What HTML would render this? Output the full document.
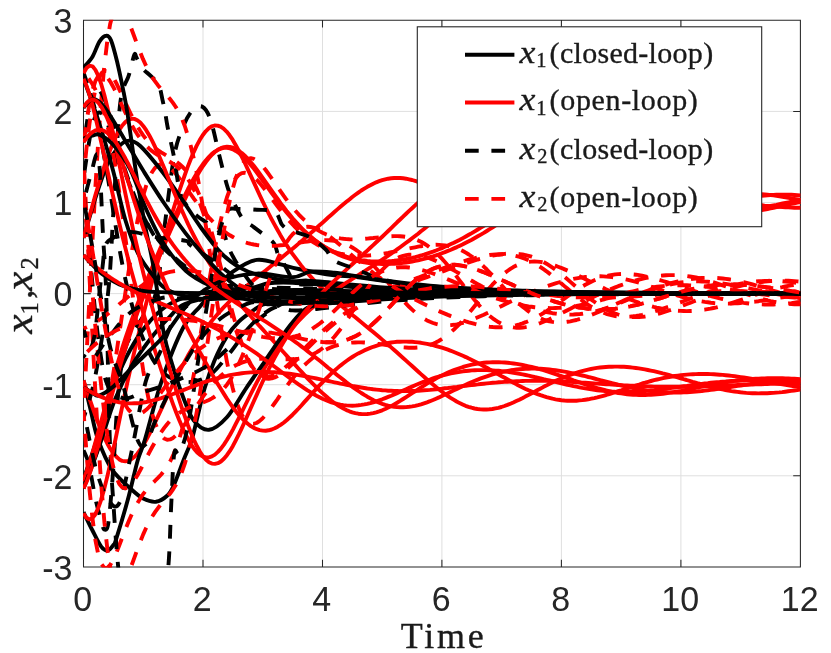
<!DOCTYPE html>
<html><head><meta charset="utf-8"><title>x1, x2 versus Time</title>
<style>html,body{margin:0;padding:0;background:#fff}svg{display:block}.tk{font-family:"Liberation Sans",sans-serif;font-size:34px;fill:#262626}.se{font-family:"Liberation Serif",serif;fill:#1a1a1a;stroke:#1a1a1a;stroke-width:.35px}.c{fill:none;stroke-linejoin:round;stroke-linecap:butt}</style></head><body>
<svg width="831" height="653" viewBox="0 0 831 653">
<rect width="831" height="653" fill="#fff"/>
<path d="M203.0 20.3 V566.9M322.5 20.3 V566.9M441.9 20.3 V566.9M561.4 20.3 V566.9M680.9 20.3 V566.9M83.5 475.8 H800.4M83.5 384.7 H800.4M83.5 293.6 H800.4M83.5 202.5 H800.4M83.5 111.4 H800.4" stroke="#dfdfdf" stroke-width="1" fill="none"/>
<path d="M83.5 20.3 H800.4 V566.9 H83.5 ZM203.0 566.9 v-7.2 M203.0 20.3 v7.2M322.5 566.9 v-7.2 M322.5 20.3 v7.2M441.9 566.9 v-7.2 M441.9 20.3 v7.2M561.4 566.9 v-7.2 M561.4 20.3 v7.2M680.9 566.9 v-7.2 M680.9 20.3 v7.2M83.5 475.8 h7.2 M800.4 475.8 h-7.2M83.5 384.7 h7.2 M800.4 384.7 h-7.2M83.5 293.6 h7.2 M800.4 293.6 h-7.2M83.5 202.5 h7.2 M800.4 202.5 h-7.2M83.5 111.4 h7.2 M800.4 111.4 h-7.2" stroke="#262626" stroke-width="1.05" fill="none"/>
<defs><clipPath id="cp"><rect x="83.0" y="19.8" width="718.4" height="547.6"/></clipPath></defs>
<g clip-path="url(#cp)">
<path class="c" d="M83.5 380.1C84.7 385.2 88.2 400.3 90.7 410.2C93.1 420.1 94.5 429.5 98.0 439.4C101.6 449.2 106.2 461.0 111.9 469.4C117.5 477.8 126.6 485.0 131.8 489.8C137.1 494.7 139.2 496.6 143.2 498.6C147.2 500.6 151.8 502.2 155.8 501.8C159.8 501.3 164.2 498.5 167.1 495.8C170.1 493.2 170.8 491.8 173.6 485.8C176.3 479.9 180.6 467.7 183.6 460.0C186.6 452.4 189.3 447.1 191.6 440.0C193.9 432.9 195.2 426.0 197.4 417.3C199.6 408.6 201.9 397.2 204.8 387.8C207.6 378.4 210.7 369.5 214.3 360.9C218.0 352.4 222.8 343.0 226.9 336.4C231.0 329.9 234.7 325.8 238.8 321.7C242.9 317.6 247.3 314.7 251.4 311.8C255.5 309.0 258.3 306.0 263.3 304.5C268.3 303.0 274.3 303.5 281.2 302.8C288.2 302.2 297.2 301.2 305.1 300.5C313.1 299.8 321.1 299.1 329.0 298.6C337.0 298.1 345.0 297.7 352.9 297.3C360.9 296.9 368.9 296.6 376.8 296.3C384.8 296.1 392.8 295.9 400.7 295.7C408.7 295.5 416.7 295.3 424.6 295.2C432.6 295.0 440.6 294.9 448.5 294.8C456.5 294.7 464.5 294.6 472.4 294.5C480.4 294.4 488.3 294.4 496.3 294.3C504.3 294.2 512.2 294.2 520.2 294.1C528.2 294.1 536.1 294.1 544.1 294.0C552.1 294.0 554.1 294.0 568.0 293.9C581.9 293.9 607.8 293.8 627.7 293.8C647.7 293.7 667.6 293.7 687.5 293.7C707.4 293.7 728.4 293.7 747.2 293.6C766.0 293.6 791.5 293.6 800.4 293.6" stroke="#000" stroke-width="3.9"/>
<path class="c" d="M83.5 380.3L86.5 389.5L89.5 398.6L92.5 407.3L95.4 415.6L98.4 423.5L101.4 430.9L104.4 437.6L107.4 443.7L110.4 449.0L113.4 453.4L116.4 456.8L119.3 459.4L122.3 460.9L125.3 461.3L128.3 460.8L131.3 459.3L134.3 457.0L137.3 453.7L140.3 449.8L143.2 445.2L146.2 440.0L149.2 434.4L152.2 428.4L155.2 422.2L158.2 415.9L161.2 409.4L164.2 403.0L167.1 396.5L170.1 390.2L173.1 384.0L176.1 377.9L179.1 372.1L182.1 366.4L185.1 360.9L188.0 355.6L191.0 350.6L194.0 345.7L197.0 341.1L200.0 336.7L203.0 332.4L206.0 328.3L209.0 324.5L211.9 320.7L214.9 317.2L217.9 313.7L220.9 310.4L223.9 307.2L226.9 304.2L229.9 301.2L232.9 298.3L235.8 295.6L238.8 292.8L241.8 290.2L244.8 287.6L247.8 285.0L250.8 282.5L253.8 280.1L256.8 277.6L259.7 275.2L262.7 272.8L265.7 270.4L268.7 268.0L271.7 265.6L274.7 263.3L277.7 260.9L280.6 258.5L283.6 256.0L286.6 253.6L289.6 251.1L292.6 248.7L295.6 246.2L298.6 243.6L301.6 241.1L304.5 238.5L307.5 235.9L310.5 233.3L313.5 230.7L316.5 228.0L319.5 225.3L322.5 222.7L325.5 220.0L328.4 217.3L331.4 214.7L334.4 212.0L337.4 209.4L340.4 206.8L343.4 204.3L346.4 201.8L349.4 199.4L352.3 197.0L355.3 194.8L358.3 192.6L361.3 190.5L364.3 188.6L367.3 186.8L370.3 185.2L373.2 183.7L376.2 182.3L379.2 181.2L382.2 180.2L385.2 179.4L388.2 178.7L391.2 178.3L394.2 178.0L397.1 177.9L400.1 178.0L403.1 178.3L406.1 178.7L409.1 179.3L412.1 180.0L415.1 180.9L418.1 181.9L421.0 183.0L424.0 184.2L427.0 185.5L430.0 186.8L433.0 188.3L436.0 189.8L439.0 191.3L441.9 192.9L444.9 194.5L447.9 196.0L450.9 197.6L453.9 199.2L456.9 200.7L459.9 202.3L462.9 203.7L465.8 205.2L468.8 206.6L471.8 207.9L474.8 209.2L477.8 210.4L480.8 211.6L483.8 212.6L486.8 213.7L489.7 214.6L492.7 215.5L495.7 216.3L498.7 217.0L501.7 217.7L504.7 218.3L507.7 218.8L510.7 219.2L513.6 219.6L516.6 219.9L519.6 220.1L522.6 220.3L525.6 220.3L528.6 220.4L531.6 220.3L534.5 220.2L537.5 220.1L540.5 219.8L543.5 219.5L546.5 219.2L549.5 218.8L552.5 218.4L555.5 217.9L558.4 217.4L561.4 216.8L564.4 216.2L567.4 215.5L570.4 214.8L573.4 214.1L576.4 213.3L579.4 212.6L582.3 211.8L585.3 210.9L588.3 210.1L591.3 209.3L594.3 208.4L597.3 207.5L600.3 206.7L603.3 205.8L606.2 205.0L609.2 204.1L612.2 203.3L615.2 202.5L618.2 201.7L621.2 200.9L624.2 200.2L627.1 199.4L630.1 198.8L633.1 198.1L636.1 197.5L639.1 196.9L642.1 196.4L645.1 196.0L648.1 195.5L651.0 195.2L654.0 194.8L657.0 194.5L660.0 194.3L663.0 194.2L666.0 194.0L669.0 194.0L672.0 193.9L674.9 194.0L677.9 194.0L680.9 194.2L683.9 194.3L686.9 194.5L689.9 194.8L692.9 195.1L695.9 195.4L698.8 195.7L701.8 196.1L704.8 196.5L707.8 196.9L710.8 197.4L713.8 197.8L716.8 198.3L719.7 198.8L722.7 199.3L725.7 199.8L728.7 200.3L731.7 200.8L734.7 201.3L737.7 201.8L740.7 202.3L743.6 202.7L746.6 203.2L749.6 203.6L752.6 204.1L755.6 204.5L758.6 204.8L761.6 205.2L764.6 205.6L767.5 205.9L770.5 206.2L773.5 206.5L776.5 206.7L779.5 206.9L782.5 207.1L785.5 207.3L788.5 207.4L791.4 207.6L794.4 207.7L797.4 207.7L800.4 207.8" stroke="#f00" stroke-width="3.9"/>
<path class="c" d="M83.5 450.3C84.4 452.6 86.9 456.4 88.9 464.4C90.9 472.5 93.4 489.1 95.4 498.6C97.5 508.1 99.9 516.2 101.4 521.4C102.9 526.5 103.2 529.5 104.4 529.5C105.6 529.5 107.1 531.8 108.6 521.4C110.1 510.9 111.8 487.9 113.4 466.7C115.0 445.4 116.2 413.5 118.2 393.8C120.1 374.1 121.6 360.4 125.3 348.3C129.0 336.1 135.2 330.0 140.3 320.9C145.3 311.8 151.7 309.5 155.8 293.6C159.9 277.7 161.7 248.0 164.7 225.3C167.8 202.5 171.0 173.2 174.0 156.9C177.0 140.7 179.6 135.5 182.7 127.8C185.7 120.1 188.9 114.0 192.2 110.5C195.5 107.0 199.3 105.2 202.4 106.8C205.5 108.5 207.9 112.2 210.7 120.5C213.6 128.9 216.8 145.6 219.7 156.9C222.6 168.3 225.2 180.2 228.1 188.8C231.0 197.5 234.4 203.7 237.0 208.9C239.6 214.0 240.8 216.8 243.6 219.8C246.4 222.8 250.3 224.5 253.8 227.1C257.2 229.7 261.1 232.6 264.5 235.3C267.9 238.0 271.8 240.2 274.1 243.5C276.4 246.8 276.5 251.7 278.3 255.3C280.1 259.0 281.9 260.8 284.8 265.4C287.7 269.9 290.8 279.4 295.6 282.7C300.4 285.9 306.5 284.0 313.5 284.7C320.5 285.5 329.4 286.5 337.4 287.2C345.4 287.9 353.3 288.5 361.3 289.0C369.3 289.5 377.2 289.9 385.2 290.3C393.2 290.6 401.1 290.9 409.1 291.2C417.1 291.4 425.0 291.6 433.0 291.8C441.0 291.9 448.9 292.1 456.9 292.2C464.9 292.3 472.8 292.4 480.8 292.5C488.7 292.6 496.7 292.7 504.7 292.8C512.6 292.9 520.6 292.9 528.6 293.0C536.5 293.0 544.5 293.1 552.5 293.1C560.4 293.2 562.4 293.2 576.4 293.2C590.3 293.3 616.2 293.4 636.1 293.4C656.0 293.5 675.9 293.5 695.9 293.5C715.8 293.5 738.2 293.5 755.6 293.5C773.0 293.6 792.9 293.6 800.4 293.6" stroke="#000" stroke-width="3.9" stroke-dasharray="13.7 12.7" stroke-dashoffset="0"/>
<path class="c" d="M83.5 481.4L86.5 476.8L89.5 471.1L92.5 464.4L95.4 456.2L98.4 446.5L101.4 435.1L104.4 422.0L107.4 407.1L110.4 390.6L113.4 372.7L116.4 353.6L119.3 333.7L122.3 313.4L125.3 293.2L128.3 273.5L131.3 254.7L134.3 237.3L137.3 221.5L140.3 207.5L143.2 195.5L146.2 185.6L149.2 177.7L152.2 171.8L155.2 167.7L158.2 165.2L161.2 164.2L164.2 164.5L167.1 165.8L170.1 168.0L173.1 170.8L176.1 174.2L179.1 178.0L182.1 182.0L185.1 186.1L188.0 190.4L191.0 194.6L194.0 198.8L197.0 202.8L200.0 206.8L203.0 210.5L206.0 214.1L209.0 217.5L211.9 220.6L214.9 223.6L217.9 226.3L220.9 228.9L223.9 231.2L226.9 233.3L229.9 235.3L232.9 237.0L235.8 238.6L238.8 239.9L241.8 241.2L244.8 242.2L247.8 243.1L250.8 243.9L253.8 244.5L256.8 245.0L259.7 245.4L262.7 245.7L265.7 245.8L268.7 245.9L271.7 245.9L274.7 245.8L277.7 245.6L280.6 245.3L283.6 245.0L286.6 244.6L289.6 244.2L292.6 243.8L295.6 243.3L298.6 242.8L301.6 242.4L304.5 241.9L307.5 241.5L310.5 241.1L313.5 240.7L316.5 240.4L319.5 240.2L322.5 240.1L325.5 240.1L328.4 240.2L331.4 240.5L334.4 240.9L337.4 241.5L340.4 242.3L343.4 243.3L346.4 244.5L349.4 245.9L352.3 247.5L355.3 249.4L358.3 251.5L361.3 253.8L364.3 256.4L367.3 259.1L370.3 262.1L373.2 265.2L376.2 268.5L379.2 271.9L382.2 275.5L385.2 279.1L388.2 282.7L391.2 286.4L394.2 290.0L397.1 293.6L400.1 297.1L403.1 300.5L406.1 303.7L409.1 306.8L412.1 309.6L415.1 312.3L418.1 314.7L421.0 316.8L424.0 318.8L427.0 320.4L430.0 321.8L433.0 323.0L436.0 323.9L439.0 324.6L441.9 325.0L444.9 325.3L447.9 325.3L450.9 325.1L453.9 324.8L456.9 324.3L459.9 323.6L462.9 322.8L465.8 321.9L468.8 320.9L471.8 319.8L474.8 318.6L477.8 317.3L480.8 316.0L483.8 314.7L486.8 313.3L489.7 311.9L492.7 310.4L495.7 309.0L498.7 307.5L501.7 306.0L504.7 304.5L507.7 303.1L510.7 301.6L513.6 300.2L516.6 298.8L519.6 297.4L522.6 296.0L525.6 294.7L528.6 293.4L531.6 292.1L534.5 290.9L537.5 289.7L540.5 288.5L543.5 287.4L546.5 286.3L549.5 285.3L552.5 284.3L555.5 283.4L558.4 282.5L561.4 281.6L564.4 280.8L567.4 280.1L570.4 279.5L573.4 278.8L576.4 278.3L579.4 277.8L582.3 277.4L585.3 277.0L588.3 276.8L591.3 276.6L594.3 276.4L597.3 276.3L600.3 276.3L603.3 276.4L606.2 276.6L609.2 276.8L612.2 277.1L615.2 277.5L618.2 277.9L621.2 278.4L624.2 279.0L627.1 279.6L630.1 280.3L633.1 281.1L636.1 281.9L639.1 282.8L642.1 283.7L645.1 284.6L648.1 285.6L651.0 286.6L654.0 287.6L657.0 288.6L660.0 289.6L663.0 290.7L666.0 291.7L669.0 292.7L672.0 293.7L674.9 294.6L677.9 295.6L680.9 296.5L683.9 297.3L686.9 298.1L689.9 298.9L692.9 299.6L695.9 300.3L698.8 300.9L701.8 301.4L704.8 301.9L707.8 302.3L710.8 302.7L713.8 303.0L716.8 303.2L719.7 303.4L722.7 303.5L725.7 303.6L728.7 303.6L731.7 303.5L734.7 303.4L737.7 303.3L740.7 303.1L743.6 302.9L746.6 302.6L749.6 302.3L752.6 301.9L755.6 301.6L758.6 301.2L761.6 300.7L764.6 300.3L767.5 299.8L770.5 299.3L773.5 298.8L776.5 298.3L779.5 297.8L782.5 297.3L785.5 296.8L788.5 296.3L791.4 295.7L794.4 295.2L797.4 294.7L800.4 294.2" stroke="#f00" stroke-width="3.9" stroke-dasharray="13.7 12.7" stroke-dashoffset="0"/>
<path class="c" d="M83.5 512.2C85.0 515.3 89.5 524.7 92.5 530.5C95.4 536.2 98.8 543.5 101.4 546.9C104.0 550.2 106.0 550.8 108.0 550.5C110.0 550.2 112.0 546.9 113.4 545.0C114.7 543.2 113.6 547.1 116.0 539.6C118.4 532.0 124.2 513.0 127.8 499.8C131.5 486.5 134.9 470.1 137.8 460.0C140.7 450.0 141.1 452.4 145.0 439.4C149.0 426.3 155.1 400.1 161.5 381.5C167.8 363.0 176.5 340.6 183.0 328.0C189.4 315.5 194.7 312.9 200.0 306.4C205.3 299.9 209.5 294.8 214.9 289.0C220.4 283.3 225.9 276.6 232.9 271.7C239.8 266.9 248.8 261.1 256.8 259.9C264.7 258.7 273.7 262.9 280.6 264.4C287.6 266.0 289.6 267.2 298.6 269.0C307.5 270.8 325.5 274.1 334.4 275.4C343.4 276.6 345.4 275.7 352.3 276.5C359.3 277.2 368.3 278.8 376.2 279.9C384.2 281.0 392.2 282.2 400.1 283.2C408.1 284.2 416.1 285.0 424.0 285.8C432.0 286.5 440.0 287.1 447.9 287.7C455.9 288.2 463.9 288.7 471.8 289.1C479.8 289.5 487.8 289.9 495.7 290.2C503.7 290.5 511.6 290.7 519.6 291.0C527.6 291.2 535.5 291.4 543.5 291.6C551.5 291.8 553.5 291.8 567.4 292.0C581.3 292.2 607.2 292.6 627.1 292.8C647.1 293.0 667.0 293.1 686.9 293.2C706.8 293.3 727.7 293.3 746.6 293.4C765.6 293.4 791.4 293.5 800.4 293.5" stroke="#000" stroke-width="3.9"/>
<path class="c" d="M83.5 513.2L86.2 517.5L89.2 519.4L92.2 518.4L95.1 514.7L98.1 508.4L101.1 499.8L104.1 489.4L107.1 477.4L110.1 464.4L113.1 450.6L116.1 436.4L119.0 422.0L122.0 407.6L125.0 393.5L128.0 379.6L131.0 366.2L134.0 353.1L137.0 340.4L140.0 328.1L142.9 316.2L145.9 304.6L148.9 293.4L151.9 282.4L154.9 271.6L157.9 261.1L160.9 250.8L163.9 240.6L166.8 230.6L169.8 220.8L172.8 211.2L175.8 201.7L178.8 192.5L181.8 183.6L184.8 175.0L187.7 166.9L190.7 159.2L193.7 152.1L196.7 145.7L199.7 140.1L202.7 135.2L205.7 131.3L208.7 128.4L211.6 126.4L214.6 125.5L217.6 125.6L220.6 126.7L223.6 128.7L226.6 131.6L229.6 135.3L232.6 139.7L235.5 144.7L238.5 150.2L241.5 156.1L244.5 162.2L247.5 168.6L250.5 175.1L253.5 181.6L256.5 188.1L259.4 194.5L262.4 200.8L265.4 207.0L268.4 213.0L271.4 218.8L274.4 224.4L277.4 229.8L280.3 234.9L283.3 239.9L286.3 244.7L289.3 249.2L292.3 253.6L295.3 257.7L298.3 261.7L301.3 265.6L304.2 269.2L307.2 272.7L310.2 276.1L313.2 279.4L316.2 282.5L319.2 285.6L322.2 288.5L325.2 291.4L328.1 294.2L331.1 296.9L334.1 299.5L337.1 302.2L340.1 304.7L343.1 307.2L346.1 309.7L349.1 312.2L352.0 314.7L355.0 317.1L358.0 319.6L361.0 322.0L364.0 324.4L367.0 326.9L370.0 329.4L372.9 331.8L375.9 334.3L378.9 336.8L381.9 339.4L384.9 341.9L387.9 344.5L390.9 347.1L393.9 349.7L396.8 352.3L399.8 355.0L402.8 357.7L405.8 360.4L408.8 363.1L411.8 365.8L414.8 368.5L417.8 371.2L420.7 373.9L423.7 376.5L426.7 379.2L429.7 381.8L432.7 384.3L435.7 386.8L438.7 389.2L441.7 391.5L444.6 393.7L447.6 395.9L450.6 397.9L453.6 399.7L456.6 401.5L459.6 403.1L462.6 404.5L465.5 405.8L468.5 406.8L471.5 407.7L474.5 408.5L477.5 409.0L480.5 409.4L483.5 409.5L486.5 409.5L489.4 409.3L492.4 409.0L495.4 408.4L498.4 407.8L501.4 407.0L504.4 406.0L507.4 404.9L510.4 403.7L513.3 402.5L516.3 401.1L519.3 399.7L522.3 398.2L525.3 396.6L528.3 395.1L531.3 393.5L534.3 391.9L537.2 390.3L540.2 388.7L543.2 387.1L546.2 385.6L549.2 384.0L552.2 382.6L555.2 381.1L558.1 379.8L561.1 378.4L564.1 377.2L567.1 376.0L570.1 374.9L573.1 373.8L576.1 372.8L579.1 371.9L582.0 371.1L585.0 370.3L588.0 369.6L591.0 369.0L594.0 368.4L597.0 367.9L600.0 367.5L603.0 367.2L605.9 367.0L608.9 366.8L611.9 366.7L614.9 366.6L617.9 366.6L620.9 366.7L623.9 366.8L626.9 367.0L629.8 367.3L632.8 367.6L635.8 368.0L638.8 368.4L641.8 368.9L644.8 369.4L647.8 370.0L650.7 370.6L653.7 371.2L656.7 371.9L659.7 372.6L662.7 373.4L665.7 374.1L668.7 374.9L671.7 375.8L674.6 376.6L677.6 377.4L680.6 378.3L683.6 379.2L686.6 380.0L689.6 380.9L692.6 381.8L695.6 382.6L698.5 383.5L701.5 384.3L704.5 385.1L707.5 385.9L710.5 386.7L713.5 387.4L716.5 388.1L719.5 388.8L722.4 389.4L725.4 390.0L728.4 390.6L731.4 391.1L734.4 391.5L737.4 391.9L740.4 392.3L743.3 392.6L746.3 392.9L749.3 393.1L752.3 393.2L755.3 393.3L758.3 393.4L761.3 393.3L764.3 393.3L767.2 393.2L770.2 393.0L773.2 392.9L776.2 392.6L779.2 392.4L782.2 392.1L785.2 391.7L788.2 391.3L791.1 390.9L794.1 390.5L797.1 390.1L800.1 389.6L800.4 389.6" stroke="#f00" stroke-width="3.9"/>
<path class="c" d="M83.5 418.4C85.5 411.3 91.4 396.4 95.4 375.6C99.5 354.8 105.0 320.9 108.0 293.6C111.0 266.3 111.4 242.9 113.4 211.6C115.4 180.3 117.4 128.7 119.9 105.9C122.5 83.2 126.5 83.5 128.9 75.0C131.3 66.5 133.0 57.8 134.3 54.9C135.6 52.1 135.2 55.6 136.7 57.9C138.1 60.2 140.4 65.5 142.8 68.6C145.2 71.7 148.5 73.5 151.2 76.3C153.9 79.1 157.0 81.4 158.9 85.4C160.8 89.5 161.7 96.5 162.7 100.8C163.7 105.2 164.2 107.0 165.0 111.4C165.8 115.8 166.2 119.9 167.7 127.5C169.2 135.1 171.8 145.7 174.0 156.9C176.2 168.2 177.6 185.9 180.9 195.2C184.2 204.5 188.6 207.9 193.7 213.0C198.8 218.0 207.0 222.5 211.3 225.6C215.7 228.8 217.5 230.0 219.7 231.7C221.9 233.3 223.0 232.6 224.5 235.3C226.0 238.0 226.3 242.9 228.7 248.0C231.1 253.2 234.1 259.4 238.8 266.3C243.5 273.1 249.8 283.3 256.8 289.0C263.7 294.8 273.7 298.5 280.6 300.9C287.6 303.3 291.6 303.3 298.6 303.6C305.5 304.0 314.5 303.5 322.5 303.2C330.4 302.8 338.4 302.1 346.4 301.5C354.3 301.0 362.3 300.3 370.3 299.8C378.2 299.3 386.2 298.8 394.2 298.4C402.1 298.0 410.1 297.6 418.1 297.3C426.0 297.0 434.0 296.7 442.0 296.5C449.9 296.2 457.9 296.0 465.8 295.8C473.8 295.6 481.8 295.5 489.7 295.3C497.7 295.2 505.7 295.0 513.6 294.9C521.6 294.8 529.6 294.7 537.5 294.6C545.5 294.5 547.5 294.5 561.4 294.4C575.4 294.3 601.3 294.1 621.2 294.0C641.1 293.9 661.0 293.9 680.9 293.8C700.8 293.8 720.7 293.7 740.7 293.7C760.6 293.7 790.4 293.7 800.4 293.7" stroke="#000" stroke-width="3.9" stroke-dasharray="13.7 12.7" stroke-dashoffset="7"/>
<path class="c" d="M83.5 413.2L86.2 361.8L89.2 303.4L92.2 246.0L95.1 192.0L98.1 143.5L101.1 102.0L104.1 68.2L107.1 42.4L110.1 24.2L113.1 12.7L116.1 6.9L119.0 5.8L122.0 8.3L125.0 13.3L128.0 20.0L131.0 27.7L134.0 35.8L137.0 43.9L140.0 51.7L142.9 58.9L145.9 65.5L148.9 71.4L151.9 76.6L154.9 81.2L157.9 85.2L160.9 88.8L163.9 92.1L166.8 95.4L169.8 98.8L172.8 102.6L175.8 107.0L178.8 112.2L181.8 118.4L184.8 126.0L187.7 135.1L190.7 145.8L193.7 158.3L196.7 172.6L199.7 188.5L202.7 206.0L205.7 224.8L208.7 244.6L211.6 265.0L214.6 285.5L217.6 305.6L220.6 325.0L223.6 343.3L226.6 360.0L229.6 374.9L232.6 387.8L235.5 398.6L238.5 407.4L241.5 414.2L244.5 419.0L247.5 422.1L250.5 423.7L253.5 423.9L256.5 423.0L259.4 421.1L262.4 418.5L265.4 415.3L268.4 411.6L271.4 407.7L274.4 403.5L277.4 399.3L280.3 395.0L283.3 390.8L286.3 386.7L289.3 382.7L292.3 378.8L295.3 375.2L298.3 371.7L301.3 368.5L304.2 365.4L307.2 362.6L310.2 360.0L313.2 357.6L316.2 355.4L319.2 353.4L322.2 351.6L325.2 350.0L328.1 348.6L331.1 347.3L334.1 346.2L337.1 345.3L340.1 344.5L343.1 343.8L346.1 343.3L349.1 342.9L352.0 342.6L355.0 342.5L358.0 342.4L361.0 342.4L364.0 342.5L367.0 342.7L370.0 342.9L372.9 343.2L375.9 343.6L378.9 344.0L381.9 344.4L384.9 344.9L387.9 345.3L390.9 345.8L393.9 346.2L396.8 346.6L399.8 347.0L402.8 347.3L405.8 347.5L408.8 347.7L411.8 347.7L414.8 347.7L417.8 347.5L420.7 347.1L423.7 346.6L426.7 345.9L429.7 345.0L432.7 343.9L435.7 342.5L438.7 341.0L441.7 339.2L444.6 337.2L447.6 334.9L450.6 332.4L453.6 329.8L456.6 326.9L459.6 323.8L462.6 320.5L465.5 317.1L468.5 313.5L471.5 309.9L474.5 306.2L477.5 302.5L480.5 298.8L483.5 295.2L486.5 291.6L489.4 288.1L492.4 284.7L495.4 281.6L498.4 278.6L501.4 275.8L504.4 273.3L507.4 271.0L510.4 268.9L513.3 267.1L516.3 265.6L519.3 264.3L522.3 263.3L525.3 262.5L528.3 261.9L531.3 261.6L534.3 261.5L537.2 261.6L540.2 261.9L543.2 262.4L546.2 263.0L549.2 263.7L552.2 264.6L555.2 265.6L558.1 266.7L561.1 267.8L564.1 269.1L567.1 270.4L570.1 271.7L573.1 273.1L576.1 274.5L579.1 276.0L582.0 277.5L585.0 278.9L588.0 280.4L591.0 281.9L594.0 283.4L597.0 284.9L600.0 286.3L603.0 287.7L605.9 289.2L608.9 290.5L611.9 291.9L614.9 293.2L617.9 294.5L620.9 295.8L623.9 297.0L626.9 298.2L629.8 299.4L632.8 300.5L635.8 301.5L638.8 302.6L641.8 303.5L644.8 304.4L647.8 305.3L650.7 306.1L653.7 306.9L656.7 307.6L659.7 308.2L662.7 308.8L665.7 309.3L668.7 309.8L671.7 310.2L674.6 310.5L677.6 310.7L680.6 310.9L683.6 311.0L686.6 311.1L689.6 311.0L692.6 310.9L695.6 310.7L698.5 310.4L701.5 310.1L704.5 309.7L707.5 309.2L710.5 308.7L713.5 308.0L716.5 307.4L719.5 306.6L722.4 305.8L725.4 305.0L728.4 304.1L731.4 303.2L734.4 302.2L737.4 301.2L740.4 300.2L743.3 299.2L746.3 298.1L749.3 297.1L752.3 296.0L755.3 295.0L758.3 294.0L761.3 293.0L764.3 292.1L767.2 291.1L770.2 290.2L773.2 289.4L776.2 288.6L779.2 287.8L782.2 287.2L785.2 286.5L788.2 285.9L791.1 285.4L794.1 285.0L797.1 284.6L800.1 284.2L800.4 284.2" stroke="#f00" stroke-width="3.9" stroke-dasharray="13.7 12.7" stroke-dashoffset="11"/>
<path class="c" d="M83.5 479.4C86.0 472.0 93.7 449.7 98.4 434.8C103.2 419.9 107.5 402.6 112.0 390.0C116.5 377.4 120.5 368.7 125.3 359.2C130.1 349.7 134.6 341.2 140.6 333.0C146.6 324.8 154.1 315.8 161.2 310.0C168.2 304.2 174.0 301.2 183.0 298.0C191.9 294.8 203.6 292.5 214.9 290.9C226.2 289.2 241.8 289.4 250.8 288.1C259.7 286.9 261.7 284.1 268.7 283.2C275.7 282.3 284.6 282.5 292.6 282.7C300.6 282.9 308.5 283.7 316.5 284.3C324.5 284.8 332.4 285.5 340.4 286.1C348.4 286.7 356.3 287.3 364.3 287.8C372.3 288.2 380.2 288.7 388.2 289.1C396.1 289.5 404.1 289.8 412.1 290.1C420.0 290.4 428.0 290.7 436.0 290.9C443.9 291.1 451.9 291.3 459.9 291.5C467.8 291.7 475.8 291.8 483.8 292.0C491.7 292.1 499.7 292.2 507.7 292.4C515.6 292.5 523.6 292.6 531.6 292.6C539.5 292.7 547.5 292.8 555.5 292.9C563.4 292.9 565.4 293.0 579.4 293.0C593.3 293.1 619.2 293.2 639.1 293.3C659.0 293.4 678.9 293.4 698.8 293.4C718.8 293.5 741.7 293.5 758.6 293.5C775.5 293.5 793.4 293.5 800.4 293.5" stroke="#000" stroke-width="3.9"/>
<path class="c" d="M83.5 479.6L86.5 471.6L89.5 462.5L92.5 452.7L95.4 442.3L98.4 431.5L101.4 420.5L104.4 409.6L107.4 398.7L110.4 388.0L113.4 377.5L116.4 367.3L119.3 357.5L122.3 347.9L125.3 338.7L128.3 329.8L131.3 321.2L134.3 312.9L137.3 304.8L140.3 296.9L143.2 289.3L146.2 281.8L149.2 274.5L152.2 267.3L155.2 260.2L158.2 253.3L161.2 246.4L164.2 239.6L167.1 232.9L170.1 226.3L173.1 219.8L176.1 213.3L179.1 207.0L182.1 200.8L185.1 194.8L188.0 189.0L191.0 183.4L194.0 178.0L197.0 173.0L200.0 168.3L203.0 164.0L206.0 160.2L209.0 156.8L211.9 153.9L214.9 151.6L217.9 149.8L220.9 148.6L223.9 147.9L226.9 147.9L229.9 148.4L232.9 149.4L235.8 151.0L238.8 153.0L241.8 155.5L244.8 158.3L247.8 161.5L250.8 164.9L253.8 168.6L256.8 172.5L259.7 176.5L262.7 180.5L265.7 184.7L268.7 188.8L271.7 193.0L274.7 197.0L277.7 201.1L280.6 205.0L283.6 208.8L286.6 212.5L289.6 216.0L292.6 219.5L295.6 222.7L298.6 225.9L301.6 228.8L304.5 231.7L307.5 234.3L310.5 236.8L313.5 239.2L316.5 241.4L319.5 243.5L322.5 245.5L325.5 247.3L328.4 248.9L331.4 250.5L334.4 251.9L337.4 253.3L340.4 254.5L343.4 255.6L346.4 256.6L349.4 257.5L352.3 258.2L355.3 258.9L358.3 259.6L361.3 260.1L364.3 260.5L367.3 260.9L370.3 261.2L373.2 261.4L376.2 261.5L379.2 261.5L382.2 261.5L385.2 261.4L388.2 261.3L391.2 261.1L394.2 260.8L397.1 260.4L400.1 260.0L403.1 259.5L406.1 259.0L409.1 258.4L412.1 257.8L415.1 257.1L418.1 256.3L421.0 255.5L424.0 254.6L427.0 253.6L430.0 252.6L433.0 251.6L436.0 250.5L439.0 249.3L441.9 248.1L444.9 246.8L447.9 245.5L450.9 244.1L453.9 242.7L456.9 241.2L459.9 239.7L462.9 238.1L465.8 236.5L468.8 234.8L471.8 233.1L474.8 231.3L477.8 229.5L480.8 227.7L483.8 225.8L486.8 223.9L489.7 222.0L492.7 220.1L495.7 218.1L498.7 216.2L501.7 214.2L504.7 212.2L507.7 210.3L510.7 208.3L513.6 206.4L516.6 204.5L519.6 202.7L522.6 200.9L525.6 199.1L528.6 197.4L531.6 195.8L534.5 194.2L537.5 192.8L540.5 191.4L543.5 190.1L546.5 188.9L549.5 187.9L552.5 187.0L555.5 186.1L558.4 185.4L561.4 184.9L564.4 184.4L567.4 184.1L570.4 183.9L573.4 183.9L576.4 183.9L579.4 184.1L582.3 184.4L585.3 184.8L588.3 185.4L591.3 186.0L594.3 186.7L597.3 187.4L600.3 188.3L603.3 189.2L606.2 190.2L609.2 191.2L612.2 192.3L615.2 193.4L618.2 194.6L621.2 195.7L624.2 196.9L627.1 198.0L630.1 199.2L633.1 200.3L636.1 201.4L639.1 202.5L642.1 203.6L645.1 204.6L648.1 205.7L651.0 206.6L654.0 207.5L657.0 208.4L660.0 209.3L663.0 210.0L666.0 210.8L669.0 211.4L672.0 212.1L674.9 212.6L677.9 213.1L680.9 213.6L683.9 214.0L686.9 214.3L689.9 214.6L692.9 214.8L695.9 215.0L698.8 215.1L701.8 215.2L704.8 215.2L707.8 215.2L710.8 215.1L713.8 215.0L716.8 214.8L719.7 214.6L722.7 214.3L725.7 214.0L728.7 213.6L731.7 213.3L734.7 212.8L737.7 212.4L740.7 211.9L743.6 211.4L746.6 210.9L749.6 210.3L752.6 209.7L755.6 209.2L758.6 208.6L761.6 207.9L764.6 207.3L767.5 206.7L770.5 206.0L773.5 205.4L776.5 204.8L779.5 204.1L782.5 203.5L785.5 202.9L788.5 202.3L791.4 201.7L794.4 201.1L797.4 200.6L800.4 200.1" stroke="#f00" stroke-width="3.9"/>
<path class="c" d="M83.5 145.1C85.0 136.5 89.5 101.8 92.5 93.2C95.4 84.5 97.9 87.9 101.4 93.2C104.9 98.5 109.4 112.2 113.4 125.1C117.4 138.0 120.3 155.4 125.3 170.6C130.3 185.8 137.3 204.0 143.2 216.2C149.2 228.3 154.2 235.1 161.2 243.5C168.1 251.8 176.1 259.4 185.1 266.3C194.0 273.1 207.0 281.2 214.9 284.5C222.9 287.8 225.9 285.3 232.9 285.9C239.8 286.4 248.8 287.2 256.8 287.8C264.7 288.4 272.7 288.9 280.6 289.4C288.6 289.8 296.6 290.2 304.5 290.5C312.5 290.8 320.5 291.1 328.4 291.3C336.4 291.5 344.4 291.7 352.3 291.9C360.3 292.0 368.3 292.2 376.2 292.3C384.2 292.4 392.2 292.5 400.1 292.6C408.1 292.7 416.1 292.8 424.0 292.8C432.0 292.9 440.0 293.0 447.9 293.0C455.9 293.1 463.9 293.1 471.8 293.1C479.8 293.2 487.8 293.2 495.7 293.2C503.7 293.3 511.6 293.3 519.6 293.3C527.6 293.4 535.5 293.4 543.5 293.4C551.5 293.4 553.5 293.4 567.4 293.4C581.3 293.5 607.2 293.5 627.1 293.5C647.1 293.5 667.0 293.5 686.9 293.6C706.8 293.6 727.7 293.6 746.6 293.6C765.6 293.6 791.4 293.6 800.4 293.6" stroke="#000" stroke-width="3.9" stroke-dasharray="13.7 12.7" stroke-dashoffset="14"/>
<path class="c" d="M83.5 145.2L86.5 121.9L89.5 103.6L92.5 90.1L95.4 81.0L98.4 75.8L101.4 73.9L104.4 74.6L107.4 77.4L110.4 81.8L113.4 87.2L116.4 93.3L119.3 99.7L122.3 106.1L125.3 112.5L128.3 118.6L131.3 124.3L134.3 129.5L137.3 134.3L140.3 138.6L143.2 142.4L146.2 145.7L149.2 148.6L152.2 151.2L155.2 153.4L158.2 155.3L161.2 157.1L164.2 158.7L167.1 160.3L170.1 162.0L173.1 163.9L176.1 166.0L179.1 168.5L182.1 171.5L185.1 175.0L188.0 179.2L191.0 184.1L194.0 189.8L197.0 196.3L200.0 203.7L203.0 212.0L206.0 221.0L209.0 230.8L211.9 241.3L214.9 252.3L217.9 263.6L220.9 275.2L223.9 286.7L226.9 298.1L229.9 309.2L232.9 319.7L235.8 329.5L238.8 338.5L241.8 346.6L244.8 353.8L247.8 359.9L250.8 365.1L253.8 369.2L256.8 372.3L259.7 374.6L262.7 376.0L265.7 376.6L268.7 376.5L271.7 375.9L274.7 374.7L277.7 373.0L280.6 371.0L283.6 368.7L286.6 366.1L289.6 363.4L292.6 360.5L295.6 357.6L298.6 354.5L301.6 351.5L304.5 348.5L307.5 345.4L310.5 342.5L313.5 339.5L316.5 336.7L319.5 333.9L322.5 331.2L325.5 328.5L328.4 326.0L331.4 323.5L334.4 321.1L337.4 318.8L340.4 316.6L343.4 314.5L346.4 312.4L349.4 310.5L352.3 308.5L355.3 306.7L358.3 304.9L361.3 303.2L364.3 301.5L367.3 299.9L370.3 298.4L373.2 296.9L376.2 295.4L379.2 294.0L382.2 292.6L385.2 291.2L388.2 289.9L391.2 288.6L394.2 287.3L397.1 286.0L400.1 284.8L403.1 283.6L406.1 282.4L409.1 281.2L412.1 280.0L415.1 278.8L418.1 277.7L421.0 276.5L424.0 275.4L427.0 274.2L430.0 273.1L433.0 272.0L436.0 270.9L439.0 269.8L441.9 268.7L444.9 267.6L447.9 266.5L450.9 265.5L453.9 264.5L456.9 263.5L459.9 262.5L462.9 261.5L465.8 260.6L468.8 259.7L471.8 258.8L474.8 258.1L477.8 257.3L480.8 256.6L483.8 256.0L486.8 255.5L489.7 255.0L492.7 254.7L495.7 254.4L498.7 254.3L501.7 254.2L504.7 254.3L507.7 254.6L510.7 254.9L513.6 255.4L516.6 256.1L519.6 256.9L522.6 257.9L525.6 259.0L528.6 260.4L531.6 261.8L534.5 263.4L537.5 265.2L540.5 267.1L543.5 269.2L546.5 271.3L549.5 273.6L552.5 276.0L555.5 278.5L558.4 281.0L561.4 283.5L564.4 286.1L567.4 288.6L570.4 291.2L573.4 293.7L576.4 296.1L579.4 298.5L582.3 300.7L585.3 302.9L588.3 304.9L591.3 306.8L594.3 308.5L597.3 310.1L600.3 311.5L603.3 312.7L606.2 313.8L609.2 314.7L612.2 315.4L615.2 316.0L618.2 316.4L621.2 316.6L624.2 316.7L627.1 316.7L630.1 316.6L633.1 316.3L636.1 315.9L639.1 315.4L642.1 314.8L645.1 314.1L648.1 313.4L651.0 312.5L654.0 311.6L657.0 310.7L660.0 309.7L663.0 308.7L666.0 307.6L669.0 306.6L672.0 305.5L674.9 304.3L677.9 303.2L680.9 302.1L683.9 301.0L686.9 299.8L689.9 298.7L692.9 297.6L695.9 296.5L698.8 295.5L701.8 294.4L704.8 293.4L707.8 292.4L710.8 291.4L713.8 290.5L716.8 289.6L719.7 288.7L722.7 287.9L725.7 287.1L728.7 286.3L731.7 285.6L734.7 284.9L737.7 284.3L740.7 283.7L743.6 283.2L746.6 282.7L749.6 282.3L752.6 281.9L755.6 281.6L758.6 281.3L761.6 281.1L764.6 281.0L767.5 280.9L770.5 280.8L773.5 280.8L776.5 280.9L779.5 281.0L782.5 281.2L785.5 281.5L788.5 281.8L791.4 282.1L794.4 282.5L797.4 282.9L800.4 283.4" stroke="#f00" stroke-width="3.9" stroke-dasharray="13.7 12.7" stroke-dashoffset="22"/>
<path class="c" d="M83.5 488.6C86.0 481.9 93.2 463.3 98.4 448.5C103.7 433.6 109.5 413.1 115.0 399.5C120.5 385.8 124.9 377.2 131.3 366.5C137.7 355.7 146.9 343.3 153.4 335.0C159.9 326.6 164.9 321.5 170.1 316.4C175.4 311.2 176.4 307.5 184.8 304.0C193.3 300.5 207.9 297.5 220.9 295.4C233.9 293.4 252.8 292.7 262.7 291.8C272.7 290.9 273.7 290.5 280.6 290.2C287.6 289.9 296.6 289.9 304.5 290.0C312.5 290.1 320.5 290.3 328.4 290.5C336.4 290.7 344.4 290.9 352.3 291.1C360.3 291.3 368.3 291.5 376.2 291.7C384.2 291.8 392.2 292.0 400.1 292.1C408.1 292.2 416.1 292.3 424.0 292.4C432.0 292.5 440.0 292.6 447.9 292.7C455.9 292.8 463.9 292.9 471.8 292.9C479.8 293.0 487.8 293.0 495.7 293.1C503.7 293.1 511.6 293.2 519.6 293.2C527.6 293.2 535.5 293.3 543.5 293.3C551.5 293.3 553.5 293.3 567.4 293.4C581.3 293.4 607.2 293.4 627.1 293.5C647.1 293.5 667.0 293.5 686.9 293.5C706.8 293.5 727.7 293.6 746.6 293.6C765.6 293.6 791.4 293.6 800.4 293.6" stroke="#000" stroke-width="3.9"/>
<path class="c" d="M83.5 488.5L86.5 482.0L89.5 474.1L92.5 465.1L95.4 455.2L98.4 444.7L101.4 433.8L104.4 422.7L107.4 411.6L110.4 400.5L113.4 389.6L116.4 379.0L119.3 368.6L122.3 358.5L125.3 348.8L128.3 339.4L131.3 330.3L134.3 321.6L137.3 313.1L140.3 304.8L143.2 296.8L146.2 289.0L149.2 281.3L152.2 273.9L155.2 266.5L158.2 259.3L161.2 252.2L164.2 245.2L167.1 238.3L170.1 231.4L173.1 224.7L176.1 218.0L179.1 211.5L182.1 205.0L185.1 198.8L188.0 192.7L191.0 186.8L194.0 181.1L197.0 175.7L200.0 170.7L203.0 166.0L206.0 161.8L209.0 158.0L211.9 154.7L214.9 152.0L217.9 149.8L220.9 148.2L223.9 147.2L226.9 146.8L229.9 146.9L232.9 147.7L235.8 149.0L238.8 150.8L241.8 153.0L244.8 155.7L247.8 158.8L250.8 162.2L253.8 165.8L256.8 169.7L259.7 173.7L262.7 177.9L265.7 182.1L268.7 186.4L271.7 190.6L274.7 194.8L277.7 199.0L280.6 203.1L283.6 207.0L286.6 210.9L289.6 214.6L292.6 218.2L295.6 221.6L298.6 224.9L301.6 228.0L304.5 231.0L307.5 233.8L310.5 236.5L313.5 239.0L316.5 241.4L319.5 243.6L322.5 245.7L325.5 247.6L328.4 249.4L331.4 251.1L334.4 252.6L337.4 254.1L340.4 255.4L343.4 256.6L346.4 257.7L349.4 258.7L352.3 259.6L355.3 260.4L358.3 261.2L361.3 261.8L364.3 262.4L367.3 262.8L370.3 263.2L373.2 263.5L376.2 263.8L379.2 263.9L382.2 264.0L385.2 264.0L388.2 264.0L391.2 263.9L394.2 263.7L397.1 263.5L400.1 263.2L403.1 262.9L406.1 262.5L409.1 262.0L412.1 261.5L415.1 260.9L418.1 260.3L421.0 259.6L424.0 258.9L427.0 258.1L430.0 257.2L433.0 256.3L436.0 255.3L439.0 254.3L441.9 253.2L444.9 252.1L447.9 250.9L450.9 249.7L453.9 248.4L456.9 247.1L459.9 245.7L462.9 244.3L465.8 242.8L468.8 241.2L471.8 239.7L474.8 238.0L477.8 236.3L480.8 234.6L483.8 232.9L486.8 231.0L489.7 229.2L492.7 227.3L495.7 225.4L498.7 223.5L501.7 221.5L504.7 219.6L507.7 217.6L510.7 215.6L513.6 213.6L516.6 211.6L519.6 209.6L522.6 207.6L525.6 205.7L528.6 203.8L531.6 201.9L534.5 200.1L537.5 198.3L540.5 196.6L543.5 195.0L546.5 193.5L549.5 192.0L552.5 190.7L555.5 189.4L558.4 188.3L561.4 187.3L564.4 186.4L567.4 185.6L570.4 184.9L573.4 184.4L576.4 184.0L579.4 183.8L582.3 183.6L585.3 183.6L588.3 183.7L591.3 184.0L594.3 184.3L597.3 184.8L600.3 185.4L603.3 186.0L606.2 186.8L609.2 187.6L612.2 188.5L615.2 189.5L618.2 190.5L621.2 191.6L624.2 192.7L627.1 193.8L630.1 195.0L633.1 196.1L636.1 197.3L639.1 198.5L642.1 199.7L645.1 200.8L648.1 201.9L651.0 203.1L654.0 204.1L657.0 205.2L660.0 206.2L663.0 207.1L666.0 208.1L669.0 208.9L672.0 209.7L674.9 210.5L677.9 211.2L680.9 211.9L683.9 212.5L686.9 213.0L689.9 213.5L692.9 214.0L695.9 214.3L698.8 214.7L701.8 214.9L704.8 215.1L707.8 215.3L710.8 215.4L713.8 215.4L716.8 215.4L719.7 215.4L722.7 215.3L725.7 215.1L728.7 214.9L731.7 214.7L734.7 214.4L737.7 214.0L740.7 213.7L743.6 213.3L746.6 212.8L749.6 212.4L752.6 211.9L755.6 211.3L758.6 210.8L761.6 210.2L764.6 209.6L767.5 209.0L770.5 208.4L773.5 207.8L776.5 207.1L779.5 206.5L782.5 205.8L785.5 205.2L788.5 204.5L791.4 203.9L794.4 203.3L797.4 202.7L800.4 202.1" stroke="#f00" stroke-width="3.9"/>
<path class="c" d="M83.5 177.9C85.0 169.1 89.5 135.8 92.5 125.1C95.4 114.3 97.9 110.9 101.4 113.2C104.9 115.5 108.4 126.1 113.4 138.7C118.3 151.3 124.6 172.9 131.3 188.8C138.0 204.8 146.4 223.0 153.4 234.4C160.4 245.8 164.8 249.6 173.1 257.2C181.4 264.8 192.0 274.3 203.0 279.9C213.9 285.6 229.9 288.5 238.8 290.9C247.8 293.2 249.8 293.4 256.8 294.2C263.7 295.0 272.7 295.4 280.6 295.6C288.6 295.9 296.6 295.8 304.5 295.8C312.5 295.8 320.5 295.6 328.4 295.5C336.4 295.4 344.4 295.3 352.3 295.2C360.3 295.1 368.3 294.9 376.2 294.8C384.2 294.7 392.2 294.7 400.1 294.6C408.1 294.5 416.1 294.4 424.0 294.4C432.0 294.3 440.0 294.2 447.9 294.2C455.9 294.1 463.9 294.1 471.8 294.1C479.8 294.0 487.8 294.0 495.7 294.0C503.7 293.9 511.6 293.9 519.6 293.9C527.6 293.8 535.5 293.8 543.5 293.8C551.5 293.8 553.5 293.8 567.4 293.8C581.3 293.7 607.2 293.7 627.1 293.7C647.1 293.7 667.0 293.7 686.9 293.6C706.8 293.6 727.7 293.6 746.6 293.6C765.6 293.6 791.4 293.6 800.4 293.6" stroke="#000" stroke-width="3.9" stroke-dasharray="13.7 12.7" stroke-dashoffset="21"/>
<path class="c" d="M83.5 177.7L86.5 148.1L89.5 123.4L92.5 103.8L95.4 89.2L98.4 79.2L101.4 73.3L104.4 70.8L107.4 71.2L110.4 73.7L113.4 77.9L116.4 83.3L119.3 89.4L122.3 95.8L125.3 102.4L128.3 108.8L131.3 115.0L134.3 120.8L137.3 126.2L140.3 131.0L143.2 135.4L146.2 139.3L149.2 142.7L152.2 145.6L155.2 148.2L158.2 150.4L161.2 152.4L164.2 154.2L167.1 156.0L170.1 157.7L173.1 159.5L176.1 161.5L179.1 163.7L182.1 166.4L185.1 169.6L188.0 173.5L191.0 178.0L194.0 183.3L197.0 189.4L200.0 196.4L203.0 204.3L206.0 213.1L209.0 222.8L211.9 233.1L214.9 244.1L217.9 255.6L220.9 267.4L223.9 279.4L226.9 291.2L229.9 302.9L232.9 314.1L235.8 324.6L238.8 334.5L241.8 343.4L244.8 351.4L247.8 358.3L250.8 364.2L253.8 369.0L256.8 372.7L259.7 375.6L262.7 377.4L265.7 378.5L268.7 378.8L271.7 378.4L274.7 377.4L277.7 376.0L280.6 374.1L283.6 371.9L286.6 369.3L289.6 366.6L292.6 363.8L295.6 360.8L298.6 357.7L301.6 354.6L304.5 351.5L307.5 348.4L310.5 345.4L313.5 342.4L316.5 339.4L319.5 336.6L322.5 333.8L325.5 331.1L328.4 328.5L331.4 326.0L334.4 323.5L337.4 321.2L340.4 319.0L343.4 316.8L346.4 314.7L349.4 312.7L352.3 310.8L355.3 308.9L358.3 307.1L361.3 305.4L364.3 303.7L367.3 302.1L370.3 300.6L373.2 299.1L376.2 297.6L379.2 296.2L382.2 294.9L385.2 293.5L388.2 292.2L391.2 290.9L394.2 289.7L397.1 288.5L400.1 287.3L403.1 286.1L406.1 284.9L409.1 283.8L412.1 282.6L415.1 281.5L418.1 280.4L421.0 279.3L424.0 278.2L427.0 277.1L430.0 276.0L433.0 274.9L436.0 273.8L439.0 272.7L441.9 271.7L444.9 270.6L447.9 269.5L450.9 268.5L453.9 267.4L456.9 266.4L459.9 265.3L462.9 264.3L465.8 263.3L468.8 262.3L471.8 261.4L474.8 260.4L477.8 259.5L480.8 258.7L483.8 257.9L486.8 257.1L489.7 256.4L492.7 255.7L495.7 255.2L498.7 254.7L501.7 254.3L504.7 253.9L507.7 253.7L510.7 253.6L513.6 253.7L516.6 253.8L519.6 254.1L522.6 254.5L525.6 255.1L528.6 255.8L531.6 256.7L534.5 257.8L537.5 259.0L540.5 260.4L543.5 262.0L546.5 263.7L549.5 265.6L552.5 267.6L555.5 269.7L558.4 272.0L561.4 274.3L564.4 276.8L567.4 279.3L570.4 281.9L573.4 284.5L576.4 287.1L579.4 289.7L582.3 292.2L585.3 294.8L588.3 297.2L591.3 299.6L594.3 301.8L597.3 303.9L600.3 305.9L603.3 307.8L606.2 309.5L609.2 311.0L612.2 312.3L615.2 313.5L618.2 314.5L621.2 315.4L624.2 316.0L627.1 316.5L630.1 316.9L633.1 317.1L636.1 317.1L639.1 317.0L642.1 316.8L645.1 316.5L648.1 316.0L651.0 315.5L654.0 314.8L657.0 314.1L660.0 313.3L663.0 312.4L666.0 311.5L669.0 310.5L672.0 309.5L674.9 308.4L677.9 307.4L680.9 306.2L683.9 305.1L686.9 304.0L689.9 302.9L692.9 301.7L695.9 300.6L698.8 299.4L701.8 298.3L704.8 297.2L707.8 296.1L710.8 295.0L713.8 294.0L716.8 293.0L719.7 292.0L722.7 291.0L725.7 290.0L728.7 289.1L731.7 288.3L734.7 287.4L737.7 286.6L740.7 285.9L743.6 285.2L746.6 284.5L749.6 283.9L752.6 283.4L755.6 282.8L758.6 282.4L761.6 282.0L764.6 281.6L767.5 281.3L770.5 281.0L773.5 280.9L776.5 280.7L779.5 280.6L782.5 280.6L785.5 280.7L788.5 280.8L791.4 280.9L794.4 281.1L797.4 281.4L800.4 281.7" stroke="#f00" stroke-width="3.9" stroke-dasharray="13.7 12.7" stroke-dashoffset="7"/>
<path class="c" d="M83.5 238.0C85.5 231.3 91.5 210.2 95.4 197.9C99.4 185.6 103.4 172.9 107.4 164.2C111.4 155.6 115.8 150.0 119.3 146.0C122.9 142.1 125.4 140.6 128.9 140.6C132.4 140.6 134.9 141.1 140.3 146.0C145.6 150.9 154.1 161.3 160.9 170.0C167.7 178.6 174.3 188.3 181.0 197.9C187.7 207.6 194.4 218.7 201.2 228.0C207.9 237.3 214.7 246.7 221.5 253.5C228.3 260.3 235.0 264.9 241.8 268.6C248.6 272.4 254.2 274.0 262.1 276.0C270.1 278.1 282.0 280.3 289.6 281.0C297.2 281.8 300.6 280.3 307.5 280.6C314.5 280.9 323.5 281.9 331.4 282.6C339.4 283.4 347.4 284.3 355.3 285.0C363.3 285.8 371.3 286.5 379.2 287.1C387.2 287.7 395.2 288.2 403.1 288.6C411.1 289.1 419.0 289.5 427.0 289.8C435.0 290.1 442.9 290.4 450.9 290.7C458.9 290.9 466.8 291.2 474.8 291.4C482.8 291.6 490.7 291.7 498.7 291.9C506.7 292.0 514.6 292.2 522.6 292.3C530.6 292.4 538.5 292.5 546.5 292.6C554.5 292.7 556.5 292.7 570.4 292.8C584.3 292.9 610.2 293.1 630.1 293.2C650.1 293.3 670.0 293.3 689.9 293.4C709.8 293.4 731.2 293.5 749.6 293.5C768.0 293.5 791.9 293.5 800.4 293.5" stroke="#000" stroke-width="3.9"/>
<path class="c" d="M83.5 237.8L86.5 226.8L89.5 216.0L92.5 205.5L95.4 195.1L98.4 185.1L101.4 175.4L104.4 166.2L107.4 157.5L110.4 149.4L113.4 142.1L116.4 135.6L119.3 130.0L122.3 125.5L125.3 122.1L128.3 119.8L131.3 118.8L134.3 118.9L137.3 120.2L140.3 122.5L143.2 125.9L146.2 130.2L149.2 135.2L152.2 140.9L155.2 147.2L158.2 153.9L161.2 160.9L164.2 168.0L167.1 175.3L170.1 182.6L173.1 189.9L176.1 197.0L179.1 204.0L182.1 210.9L185.1 217.5L188.0 223.9L191.0 230.1L194.0 236.0L197.0 241.7L200.0 247.2L203.0 252.5L206.0 257.5L209.0 262.4L211.9 267.0L214.9 271.5L217.9 275.8L220.9 280.0L223.9 284.1L226.9 288.0L229.9 291.8L232.9 295.5L235.8 299.1L238.8 302.7L241.8 306.2L244.8 309.6L247.8 313.0L250.8 316.3L253.8 319.6L256.8 322.9L259.7 326.2L262.7 329.4L265.7 332.7L268.7 336.0L271.7 339.2L274.7 342.5L277.7 345.7L280.6 349.0L283.6 352.3L286.6 355.6L289.6 358.8L292.6 362.1L295.6 365.4L298.6 368.7L301.6 371.9L304.5 375.1L307.5 378.3L310.5 381.4L313.5 384.4L316.5 387.4L319.5 390.3L322.5 393.1L325.5 395.8L328.4 398.3L331.4 400.7L334.4 403.0L337.4 405.0L340.4 406.9L343.4 408.6L346.4 410.1L349.4 411.3L352.3 412.3L355.3 413.1L358.3 413.7L361.3 414.0L364.3 414.1L367.3 414.0L370.3 413.6L373.2 413.1L376.2 412.3L379.2 411.4L382.2 410.3L385.2 409.0L388.2 407.6L391.2 406.1L394.2 404.4L397.1 402.7L400.1 400.9L403.1 399.0L406.1 397.1L409.1 395.2L412.1 393.2L415.1 391.3L418.1 389.4L421.0 387.4L424.0 385.6L427.0 383.7L430.0 381.9L433.0 380.2L436.0 378.5L439.0 376.9L441.9 375.4L444.9 374.0L447.9 372.6L450.9 371.3L453.9 370.1L456.9 369.0L459.9 368.0L462.9 367.0L465.8 366.2L468.8 365.4L471.8 364.7L474.8 364.1L477.8 363.6L480.8 363.2L483.8 362.8L486.8 362.5L489.7 362.4L492.7 362.2L495.7 362.2L498.7 362.2L501.7 362.4L504.7 362.5L507.7 362.8L510.7 363.1L513.6 363.5L516.6 363.9L519.6 364.4L522.6 365.0L525.6 365.6L528.6 366.3L531.6 367.0L534.5 367.7L537.5 368.5L540.5 369.4L543.5 370.2L546.5 371.2L549.5 372.1L552.5 373.1L555.5 374.1L558.4 375.1L561.4 376.1L564.4 377.1L567.4 378.2L570.4 379.2L573.4 380.3L576.4 381.3L579.4 382.3L582.3 383.4L585.3 384.4L588.3 385.3L591.3 386.3L594.3 387.2L597.3 388.1L600.3 388.9L603.3 389.7L606.2 390.5L609.2 391.2L612.2 391.8L615.2 392.4L618.2 393.0L621.2 393.4L624.2 393.8L627.1 394.2L630.1 394.5L633.1 394.7L636.1 394.9L639.1 395.0L642.1 395.0L645.1 395.0L648.1 394.9L651.0 394.8L654.0 394.6L657.0 394.3L660.0 394.0L663.0 393.7L666.0 393.3L669.0 392.9L672.0 392.4L674.9 391.9L677.9 391.4L680.9 390.9L683.9 390.3L686.9 389.7L689.9 389.1L692.9 388.5L695.9 387.9L698.8 387.3L701.8 386.7L704.8 386.1L707.8 385.5L710.8 384.9L713.8 384.4L716.8 383.8L719.7 383.3L722.7 382.8L725.7 382.3L728.7 381.8L731.7 381.3L734.7 380.9L737.7 380.5L740.7 380.2L743.6 379.8L746.6 379.5L749.6 379.3L752.6 379.0L755.6 378.8L758.6 378.6L761.6 378.5L764.6 378.4L767.5 378.3L770.5 378.2L773.5 378.2L776.5 378.2L779.5 378.3L782.5 378.3L785.5 378.4L788.5 378.5L791.4 378.7L794.4 378.8L797.4 379.0L800.4 379.2" stroke="#f00" stroke-width="3.9"/>
<path class="c" d="M83.5 72.2C85.5 78.8 91.5 94.2 95.4 111.4C99.4 128.6 103.4 152.4 107.4 175.2C111.4 197.9 115.8 228.3 119.3 248.0C122.9 267.8 124.9 278.4 128.9 293.6C132.9 308.8 137.9 326.2 143.2 339.1C148.6 352.1 154.2 363.9 161.2 371.0C168.1 378.2 177.1 381.2 185.1 382.0C193.0 382.7 201.5 380.4 209.0 375.6C216.4 370.7 222.9 361.2 229.9 352.8C236.8 344.5 243.3 333.1 250.8 325.5C258.2 317.9 267.7 309.8 274.7 307.3C281.6 304.8 285.6 310.1 292.6 310.4C299.6 310.7 308.5 309.7 316.5 309.0C324.5 308.3 332.4 307.0 340.4 306.1C348.4 305.1 356.3 304.1 364.3 303.3C372.3 302.5 380.2 301.7 388.2 301.1C396.1 300.4 404.1 299.9 412.1 299.4C420.0 298.8 428.0 298.4 436.0 298.0C443.9 297.6 451.9 297.3 459.9 297.0C467.8 296.7 475.8 296.5 483.8 296.2C491.7 296.0 499.7 295.8 507.7 295.6C515.6 295.4 523.6 295.3 531.6 295.2C539.5 295.0 547.5 294.9 555.5 294.8C563.4 294.7 565.4 294.7 579.4 294.5C593.3 294.4 619.2 294.2 639.1 294.1C659.0 294.0 678.9 293.9 698.8 293.9C718.8 293.8 741.7 293.8 758.6 293.7C775.5 293.7 793.4 293.7 800.4 293.7" stroke="#000" stroke-width="3.9" stroke-dasharray="13.7 12.7" stroke-dashoffset="2"/>
<path class="c" d="M83.5 71.8L86.5 75.7L89.5 79.7L92.5 84.3L95.4 89.7L98.4 96.3L101.4 104.2L104.4 113.9L107.4 125.5L110.4 139.1L113.4 154.9L116.4 172.8L119.3 192.6L122.3 214.1L125.3 236.9L128.3 260.4L131.3 284.2L134.3 307.6L137.3 330.1L140.3 351.1L143.2 370.3L146.2 387.3L149.2 401.8L152.2 413.9L155.2 423.4L158.2 430.6L161.2 435.5L164.2 438.5L167.1 439.7L170.1 439.4L173.1 437.9L176.1 435.3L179.1 432.0L182.1 428.2L185.1 423.9L188.0 419.4L191.0 414.8L194.0 410.1L197.0 405.5L200.0 401.0L203.0 396.7L206.0 392.6L209.0 388.7L211.9 385.1L214.9 381.7L217.9 378.6L220.9 375.8L223.9 373.2L226.9 370.8L229.9 368.8L232.9 366.9L235.8 365.3L238.8 363.9L241.8 362.7L244.8 361.6L247.8 360.8L250.8 360.1L253.8 359.6L256.8 359.2L259.7 358.9L262.7 358.8L265.7 358.7L268.7 358.7L271.7 358.8L274.7 358.9L277.7 359.0L280.6 359.1L283.6 359.2L286.6 359.2L289.6 359.2L292.6 359.1L295.6 358.9L298.6 358.6L301.6 358.1L304.5 357.4L307.5 356.5L310.5 355.4L313.5 354.0L316.5 352.4L319.5 350.5L322.5 348.3L325.5 345.9L328.4 343.1L331.4 340.0L334.4 336.7L337.4 333.0L340.4 329.2L343.4 325.1L346.4 320.8L349.4 316.3L352.3 311.8L355.3 307.2L358.3 302.5L361.3 297.9L364.3 293.3L367.3 288.9L370.3 284.6L373.2 280.5L376.2 276.6L379.2 273.1L382.2 269.8L385.2 266.8L388.2 264.1L391.2 261.8L394.2 259.8L397.1 258.2L400.1 256.8L403.1 255.8L406.1 255.2L409.1 254.7L412.1 254.6L415.1 254.7L418.1 255.1L421.0 255.6L424.0 256.4L427.0 257.3L430.0 258.4L433.0 259.6L436.0 260.9L439.0 262.3L441.9 263.8L444.9 265.4L447.9 267.0L450.9 268.7L453.9 270.4L456.9 272.1L459.9 273.8L462.9 275.6L465.8 277.3L468.8 279.0L471.8 280.8L474.8 282.5L477.8 284.1L480.8 285.8L483.8 287.4L486.8 289.0L489.7 290.6L492.7 292.1L495.7 293.6L498.7 295.1L501.7 296.5L504.7 297.9L507.7 299.3L510.7 300.6L513.6 301.8L516.6 303.0L519.6 304.2L522.6 305.3L525.6 306.4L528.6 307.4L531.6 308.3L534.5 309.2L537.5 310.0L540.5 310.8L543.5 311.5L546.5 312.2L549.5 312.7L552.5 313.2L555.5 313.6L558.4 314.0L561.4 314.2L564.4 314.4L567.4 314.5L570.4 314.6L573.4 314.5L576.4 314.3L579.4 314.1L582.3 313.8L585.3 313.3L588.3 312.8L591.3 312.3L594.3 311.6L597.3 310.8L600.3 310.0L603.3 309.1L606.2 308.1L609.2 307.1L612.2 306.0L615.2 304.9L618.2 303.7L621.2 302.5L624.2 301.3L627.1 300.0L630.1 298.8L633.1 297.5L636.1 296.2L639.1 295.0L642.1 293.7L645.1 292.5L648.1 291.4L651.0 290.3L654.0 289.2L657.0 288.2L660.0 287.2L663.0 286.3L666.0 285.5L669.0 284.8L672.0 284.1L674.9 283.5L677.9 283.0L680.9 282.5L683.9 282.2L686.9 281.9L689.9 281.7L692.9 281.5L695.9 281.4L698.8 281.4L701.8 281.5L704.8 281.6L707.8 281.8L710.8 282.1L713.8 282.3L716.8 282.7L719.7 283.1L722.7 283.5L725.7 283.9L728.7 284.4L731.7 285.0L734.7 285.5L737.7 286.1L740.7 286.7L743.6 287.3L746.6 287.9L749.6 288.5L752.6 289.1L755.6 289.7L758.6 290.4L761.6 291.0L764.6 291.6L767.5 292.2L770.5 292.8L773.5 293.4L776.5 294.0L779.5 294.6L782.5 295.1L785.5 295.6L788.5 296.1L791.4 296.6L794.4 297.1L797.4 297.5L800.4 297.9" stroke="#f00" stroke-width="3.9" stroke-dasharray="13.7 12.7" stroke-dashoffset="18"/>
<path class="c" d="M83.5 78.6C86.0 85.6 93.5 105.3 98.4 120.5C103.3 135.7 108.4 153.3 112.9 170.0C117.4 186.6 121.3 206.6 125.5 220.5C129.7 234.4 133.4 244.2 138.0 253.4C142.6 262.7 148.6 270.1 153.3 276.0C157.9 281.9 160.5 285.4 165.9 288.8C171.4 292.2 179.3 294.7 186.0 296.4C192.8 298.1 197.6 298.6 206.4 298.9C215.2 299.2 230.4 297.7 238.8 298.2C247.2 298.6 249.8 300.8 256.8 301.4C263.7 301.9 272.7 301.7 280.6 301.5C288.6 301.3 296.6 300.7 304.5 300.3C312.5 299.9 320.5 299.4 328.4 298.9C336.4 298.5 344.4 298.1 352.3 297.8C360.3 297.4 368.3 297.1 376.2 296.8C384.2 296.5 392.2 296.3 400.1 296.1C408.1 295.9 416.1 295.7 424.0 295.5C432.0 295.4 440.0 295.2 447.9 295.1C455.9 295.0 463.9 294.8 471.8 294.7C479.8 294.6 487.8 294.6 495.7 294.5C503.7 294.4 511.6 294.3 519.6 294.3C527.6 294.2 535.5 294.2 543.5 294.1C551.5 294.1 553.5 294.1 567.4 294.0C581.3 294.0 607.2 293.9 627.1 293.8C647.1 293.8 667.0 293.7 686.9 293.7C706.8 293.7 727.7 293.7 746.6 293.7C765.6 293.6 791.4 293.6 800.4 293.6" stroke="#000" stroke-width="3.9"/>
<path class="c" d="M83.5 78.8L86.5 85.8L89.5 94.7L92.5 105.2L95.4 117.1L98.4 129.8L101.4 143.1L104.4 156.7L107.4 170.5L110.4 184.1L113.4 197.5L116.4 210.6L119.3 223.4L122.3 235.8L125.3 247.8L128.3 259.4L131.3 270.7L134.3 281.6L137.3 292.2L140.3 302.6L143.2 312.7L146.2 322.6L149.2 332.4L152.2 341.9L155.2 351.4L158.2 360.7L161.2 369.8L164.2 378.7L167.1 387.5L170.1 396.0L173.1 404.3L176.1 412.2L179.1 419.7L182.1 426.7L185.1 433.2L188.0 439.1L191.0 444.3L194.0 448.7L197.0 452.2L200.0 454.9L203.0 456.7L206.0 457.5L209.0 457.4L211.9 456.4L214.9 454.6L217.9 451.9L220.9 448.6L223.9 444.6L226.9 440.0L229.9 435.0L232.9 429.6L235.8 423.9L238.8 418.1L241.8 412.1L244.8 406.0L247.8 400.0L250.8 394.0L253.8 388.1L256.8 382.4L259.7 376.8L262.7 371.3L265.7 366.1L268.7 361.0L271.7 356.2L274.7 351.5L277.7 347.1L280.6 342.8L283.6 338.7L286.6 334.8L289.6 331.1L292.6 327.6L295.6 324.2L298.6 321.0L301.6 317.9L304.5 314.9L307.5 312.1L310.5 309.4L313.5 306.8L316.5 304.3L319.5 301.8L322.5 299.5L325.5 297.2L328.4 295.0L331.4 292.8L334.4 290.7L337.4 288.7L340.4 286.7L343.4 284.7L346.4 282.7L349.4 280.8L352.3 278.9L355.3 277.0L358.3 275.1L361.3 273.2L364.3 271.3L367.3 269.4L370.3 267.5L373.2 265.5L376.2 263.6L379.2 261.6L382.2 259.7L385.2 257.7L388.2 255.6L391.2 253.6L394.2 251.5L397.1 249.4L400.1 247.2L403.1 245.0L406.1 242.8L409.1 240.6L412.1 238.3L415.1 236.0L418.1 233.7L421.0 231.3L424.0 229.0L427.0 226.6L430.0 224.1L433.0 221.7L436.0 219.3L439.0 216.8L441.9 214.4L444.9 212.0L447.9 209.6L450.9 207.2L453.9 204.9L456.9 202.6L459.9 200.4L462.9 198.2L465.8 196.1L468.8 194.1L471.8 192.2L474.8 190.4L477.8 188.7L480.8 187.2L483.8 185.7L486.8 184.5L489.7 183.3L492.7 182.3L495.7 181.5L498.7 180.9L501.7 180.4L504.7 180.1L507.7 179.9L510.7 179.9L513.6 180.0L516.6 180.3L519.6 180.8L522.6 181.4L525.6 182.1L528.6 182.9L531.6 183.9L534.5 184.9L537.5 186.0L540.5 187.3L543.5 188.5L546.5 189.9L549.5 191.2L552.5 192.6L555.5 194.1L558.4 195.5L561.4 196.9L564.4 198.4L567.4 199.8L570.4 201.2L573.4 202.6L576.4 203.9L579.4 205.2L582.3 206.5L585.3 207.7L588.3 208.8L591.3 209.9L594.3 210.9L597.3 211.9L600.3 212.8L603.3 213.7L606.2 214.5L609.2 215.2L612.2 215.8L615.2 216.4L618.2 216.9L621.2 217.3L624.2 217.7L627.1 218.0L630.1 218.3L633.1 218.4L636.1 218.5L639.1 218.6L642.1 218.6L645.1 218.5L648.1 218.4L651.0 218.2L654.0 218.0L657.0 217.7L660.0 217.3L663.0 217.0L666.0 216.5L669.0 216.0L672.0 215.5L674.9 215.0L677.9 214.4L680.9 213.8L683.9 213.1L686.9 212.4L689.9 211.7L692.9 211.0L695.9 210.2L698.8 209.5L701.8 208.7L704.8 207.9L707.8 207.1L710.8 206.3L713.8 205.6L716.8 204.8L719.7 204.0L722.7 203.2L725.7 202.5L728.7 201.8L731.7 201.1L734.7 200.4L737.7 199.7L740.7 199.1L743.6 198.5L746.6 198.0L749.6 197.4L752.6 197.0L755.6 196.5L758.6 196.1L761.6 195.8L764.6 195.5L767.5 195.2L770.5 195.0L773.5 194.9L776.5 194.7L779.5 194.7L782.5 194.6L785.5 194.7L788.5 194.7L791.4 194.8L794.4 195.0L797.4 195.2L800.4 195.4" stroke="#f00" stroke-width="3.9"/>
<path class="c" d="M83.5 410.2C85.5 419.6 91.5 452.0 95.4 466.7C99.4 481.4 103.4 492.5 107.4 498.6C111.4 504.6 115.4 510.7 119.3 503.1C123.3 495.5 126.9 473.2 131.3 453.0C135.7 432.8 141.0 398.5 145.6 382.0C150.3 365.4 154.3 364.7 159.4 353.7C164.4 342.8 169.8 325.2 176.1 316.4C182.4 307.6 187.6 304.7 197.0 300.9C206.5 297.1 223.9 295.6 232.9 293.6C241.8 291.6 243.8 290.1 250.8 289.1C257.7 288.1 266.7 287.9 274.7 287.8C282.6 287.7 290.6 288.1 298.6 288.3C306.5 288.5 314.5 288.9 322.5 289.2C330.4 289.5 338.4 289.9 346.4 290.1C354.3 290.4 362.3 290.7 370.3 290.9C378.2 291.1 386.2 291.3 394.2 291.5C402.1 291.7 410.1 291.8 418.1 292.0C426.0 292.1 434.0 292.2 442.0 292.3C449.9 292.4 457.9 292.5 465.8 292.6C473.8 292.7 481.8 292.8 489.7 292.8C497.7 292.9 505.7 293.0 513.6 293.0C521.6 293.1 529.6 293.1 537.5 293.1C545.5 293.2 547.5 293.2 561.4 293.3C575.4 293.3 601.3 293.4 621.2 293.4C641.1 293.5 661.0 293.5 680.9 293.5C700.8 293.5 720.7 293.5 740.7 293.5C760.6 293.6 790.4 293.6 800.4 293.6" stroke="#000" stroke-width="3.9" stroke-dasharray="13.7 12.7" stroke-dashoffset="9"/>
<path class="c" d="M83.5 410.4L86.5 453.4L89.5 489.6L92.5 518.5L95.4 540.1L98.4 555.0L101.4 563.9L104.4 567.9L107.4 567.8L110.4 564.6L113.4 559.4L116.4 552.7L119.3 545.2L122.3 537.4L125.3 529.6L128.3 522.2L131.3 515.3L134.3 509.0L137.3 503.4L140.3 498.4L143.2 494.0L146.2 490.2L149.2 486.7L152.2 483.6L155.2 480.7L158.2 477.7L161.2 474.5L164.2 470.8L167.1 466.6L170.1 461.5L173.1 455.4L176.1 448.1L179.1 439.4L182.1 429.3L185.1 417.5L188.0 404.2L191.0 389.5L194.0 373.3L197.0 356.1L200.0 338.1L203.0 319.6L206.0 301.0L209.0 282.7L211.9 265.1L214.9 248.5L217.9 233.2L220.9 219.6L223.9 207.6L226.9 197.5L229.9 189.3L232.9 182.8L235.8 178.1L238.8 174.9L241.8 173.1L244.8 172.7L247.8 173.2L250.8 174.7L253.8 177.0L256.8 179.8L259.7 183.1L262.7 186.7L265.7 190.5L268.7 194.5L271.7 198.5L274.7 202.5L277.7 206.5L280.6 210.4L283.6 214.1L286.6 217.7L289.6 221.2L292.6 224.5L295.6 227.6L298.6 230.5L301.6 233.2L304.5 235.8L307.5 238.1L310.5 240.3L313.5 242.3L316.5 244.2L319.5 245.8L322.5 247.4L325.5 248.7L328.4 250.0L331.4 251.1L334.4 252.0L337.4 252.9L340.4 253.6L343.4 254.2L346.4 254.7L349.4 255.1L352.3 255.3L355.3 255.5L358.3 255.6L361.3 255.7L364.3 255.6L367.3 255.5L370.3 255.3L373.2 255.0L376.2 254.6L379.2 254.3L382.2 253.8L385.2 253.3L388.2 252.8L391.2 252.2L394.2 251.6L397.1 251.0L400.1 250.4L403.1 249.7L406.1 249.1L409.1 248.5L412.1 247.9L415.1 247.3L418.1 246.7L421.0 246.2L424.0 245.8L427.0 245.4L430.0 245.1L433.0 244.9L436.0 244.8L439.0 244.9L441.9 245.1L444.9 245.4L447.9 245.9L450.9 246.5L453.9 247.3L456.9 248.4L459.9 249.6L462.9 251.0L465.8 252.6L468.8 254.5L471.8 256.5L474.8 258.8L477.8 261.2L480.8 263.8L483.8 266.6L486.8 269.5L489.7 272.5L492.7 275.6L495.7 278.9L498.7 282.1L501.7 285.4L504.7 288.7L507.7 291.9L510.7 295.1L513.6 298.2L516.6 301.2L519.6 304.0L522.6 306.7L525.6 309.1L528.6 311.4L531.6 313.5L534.5 315.4L537.5 317.0L540.5 318.4L543.5 319.6L546.5 320.6L549.5 321.4L552.5 321.9L555.5 322.3L558.4 322.4L561.4 322.4L564.4 322.2L567.4 321.8L570.4 321.4L573.4 320.7L576.4 320.0L579.4 319.1L582.3 318.2L585.3 317.2L588.3 316.1L591.3 314.9L594.3 313.7L597.3 312.5L600.3 311.2L603.3 309.9L606.2 308.5L609.2 307.2L612.2 305.8L615.2 304.5L618.2 303.1L621.2 301.7L624.2 300.4L627.1 299.1L630.1 297.8L633.1 296.5L636.1 295.2L639.1 294.0L642.1 292.8L645.1 291.6L648.1 290.5L651.0 289.4L654.0 288.3L657.0 287.3L660.0 286.3L663.0 285.4L666.0 284.5L669.0 283.7L672.0 282.9L674.9 282.1L677.9 281.4L680.9 280.8L683.9 280.2L686.9 279.7L689.9 279.2L692.9 278.8L695.9 278.5L698.8 278.2L701.8 278.0L704.8 277.9L707.8 277.8L710.8 277.8L713.8 277.9L716.8 278.0L719.7 278.2L722.7 278.5L725.7 278.9L728.7 279.3L731.7 279.7L734.7 280.2L737.7 280.8L740.7 281.5L743.6 282.1L746.6 282.9L749.6 283.7L752.6 284.5L755.6 285.3L758.6 286.2L761.6 287.1L764.6 288.0L767.5 288.9L770.5 289.9L773.5 290.8L776.5 291.7L779.5 292.7L782.5 293.6L785.5 294.4L788.5 295.3L791.4 296.1L794.4 296.9L797.4 297.6L800.4 298.3" stroke="#f00" stroke-width="3.9" stroke-dasharray="13.7 12.7" stroke-dashoffset="3"/>
<path class="c" d="M83.5 67.7C85.0 65.8 89.8 61.1 92.5 56.7C95.1 52.3 97.3 44.7 99.6 41.3C101.9 37.8 104.3 35.9 106.2 35.8C108.1 35.6 109.2 36.1 111.0 40.3C112.8 44.6 115.0 53.2 117.0 61.3C118.9 69.3 121.1 79.7 122.9 88.6C124.7 97.6 125.4 100.3 127.7 115.0C130.0 129.8 133.8 158.6 136.7 177.0C139.6 195.4 142.2 210.4 145.0 225.3C147.8 240.2 150.3 248.4 153.4 266.3C156.5 284.1 160.4 315.9 163.6 332.2C166.7 348.6 169.0 353.7 172.2 364.4C175.4 375.1 179.3 387.2 182.9 396.5C186.5 405.9 189.3 414.7 193.6 420.2C197.9 425.8 203.4 430.3 209.0 429.8C214.5 429.3 220.6 424.3 226.9 417.3C233.1 410.3 240.3 396.8 246.4 387.8C252.5 378.8 258.2 371.0 263.5 363.3C268.8 355.5 273.3 348.3 278.3 341.3C283.2 334.4 288.5 327.0 293.0 321.7C297.5 316.3 301.1 312.2 305.1 309.4C309.2 306.5 312.5 305.6 317.5 304.5C322.6 303.4 328.5 303.4 335.4 302.8C342.4 302.1 351.4 301.1 359.3 300.4C367.3 299.7 375.3 299.0 383.2 298.5C391.2 298.0 399.2 297.6 407.1 297.2C415.1 296.8 423.1 296.5 431.0 296.3C439.0 296.0 446.9 295.8 454.9 295.6C462.9 295.4 470.8 295.3 478.8 295.1C486.8 295.0 494.7 294.9 502.7 294.8C510.7 294.7 518.6 294.6 526.6 294.5C534.6 294.4 542.5 294.4 550.5 294.3C558.5 294.2 560.5 294.2 574.4 294.1C588.3 294.1 614.2 293.9 634.1 293.9C654.1 293.8 674.0 293.8 693.9 293.7C713.8 293.7 735.9 293.7 753.6 293.7C771.4 293.7 792.6 293.7 800.4 293.6" stroke="#000" stroke-width="3.9"/>
<path class="c" d="M83.5 73.4L86.5 68.0L89.5 65.7L92.5 66.3L95.4 69.9L98.4 76.1L101.4 84.7L104.4 95.3L107.4 107.5L110.4 120.8L113.4 134.9L116.4 149.4L119.3 164.1L122.3 178.8L125.3 193.3L128.3 207.5L131.3 221.3L134.3 234.8L137.3 247.8L140.3 260.4L143.2 272.6L146.2 284.4L149.2 296.0L152.2 307.3L155.2 318.3L158.2 329.1L161.2 339.7L164.2 350.2L167.1 360.4L170.1 370.5L173.1 380.4L176.1 390.1L179.1 399.5L182.1 408.6L185.1 417.2L188.0 425.5L191.0 433.1L194.0 440.1L197.0 446.3L200.0 451.8L203.0 456.3L206.0 459.8L209.0 462.2L211.9 463.6L214.9 463.9L217.9 463.2L220.9 461.5L223.9 458.8L226.9 455.2L229.9 450.9L232.9 445.9L235.8 440.3L238.8 434.4L241.8 428.1L244.8 421.5L247.8 414.8L250.8 408.0L253.8 401.3L256.8 394.6L259.7 388.0L262.7 381.5L265.7 375.3L268.7 369.2L271.7 363.3L274.7 357.7L277.7 352.2L280.6 347.0L283.6 342.0L286.6 337.2L289.6 332.6L292.6 328.2L295.6 324.0L298.6 320.0L301.6 316.1L304.5 312.3L307.5 308.7L310.5 305.3L313.5 301.9L316.5 298.6L319.5 295.5L322.5 292.4L325.5 289.4L328.4 286.4L331.4 283.5L334.4 280.7L337.4 277.9L340.4 275.1L343.4 272.4L346.4 269.6L349.4 266.9L352.3 264.2L355.3 261.5L358.3 258.8L361.3 256.1L364.3 253.3L367.3 250.6L370.3 247.8L373.2 245.1L376.2 242.3L379.2 239.5L382.2 236.7L385.2 233.8L388.2 231.0L391.2 228.1L394.2 225.2L397.1 222.3L400.1 219.5L403.1 216.6L406.1 213.8L409.1 210.9L412.1 208.2L415.1 205.4L418.1 202.7L421.0 200.1L424.0 197.5L427.0 195.1L430.0 192.7L433.0 190.5L436.0 188.4L439.0 186.4L441.9 184.6L444.9 182.9L447.9 181.4L450.9 180.1L453.9 179.0L456.9 178.0L459.9 177.3L462.9 176.8L465.8 176.4L468.8 176.3L471.8 176.3L474.8 176.6L477.8 177.0L480.8 177.6L483.8 178.4L486.8 179.3L489.7 180.3L492.7 181.5L495.7 182.8L498.7 184.2L501.7 185.7L504.7 187.2L507.7 188.8L510.7 190.5L513.6 192.1L516.6 193.8L519.6 195.5L522.6 197.2L525.6 198.9L528.6 200.6L531.6 202.2L534.5 203.8L537.5 205.4L540.5 206.9L543.5 208.3L546.5 209.7L549.5 211.0L552.5 212.2L555.5 213.4L558.4 214.5L561.4 215.5L564.4 216.5L567.4 217.4L570.4 218.1L573.4 218.9L576.4 219.5L579.4 220.1L582.3 220.5L585.3 220.9L588.3 221.3L591.3 221.5L594.3 221.7L597.3 221.8L600.3 221.9L603.3 221.8L606.2 221.7L609.2 221.6L612.2 221.4L615.2 221.1L618.2 220.7L621.2 220.4L624.2 219.9L627.1 219.4L630.1 218.8L633.1 218.2L636.1 217.6L639.1 216.9L642.1 216.2L645.1 215.4L648.1 214.7L651.0 213.8L654.0 213.0L657.0 212.1L660.0 211.2L663.0 210.3L666.0 209.4L669.0 208.5L672.0 207.6L674.9 206.7L677.9 205.7L680.9 204.8L683.9 203.9L686.9 203.0L689.9 202.2L692.9 201.3L695.9 200.5L698.8 199.7L701.8 199.0L704.8 198.3L707.8 197.6L710.8 196.9L713.8 196.4L716.8 195.8L719.7 195.3L722.7 194.9L725.7 194.5L728.7 194.2L731.7 193.9L734.7 193.7L737.7 193.5L740.7 193.4L743.6 193.4L746.6 193.4L749.6 193.4L752.6 193.5L755.6 193.7L758.6 193.9L761.6 194.1L764.6 194.4L767.5 194.7L770.5 195.1L773.5 195.4L776.5 195.9L779.5 196.3L782.5 196.8L785.5 197.3L788.5 197.8L791.4 198.3L794.4 198.8L797.4 199.3L800.4 199.9" stroke="#f00" stroke-width="3.9"/>
<path class="c" d="M83.5 202.5C84.7 197.9 88.2 182.8 90.7 175.2C93.2 167.6 96.3 146.3 98.4 156.9C100.5 167.6 101.9 216.2 103.2 238.9C104.5 261.7 105.1 260.2 106.2 293.6C107.3 327.0 108.6 404.4 109.8 439.4C111.0 474.3 112.0 481.9 113.4 503.1C114.8 524.4 116.2 547.2 118.2 566.9C120.1 586.6 121.1 612.4 125.3 621.6C129.5 630.7 137.3 621.6 143.2 621.6C149.2 621.6 157.0 630.7 161.2 621.6C165.3 612.4 166.6 586.6 168.3 566.9C170.0 547.2 170.3 522.1 171.3 503.1C172.3 484.2 173.0 461.4 174.3 453.0C175.6 444.7 176.8 457.6 179.1 453.0C181.4 448.5 184.6 443.2 188.0 425.7C191.5 408.2 196.5 370.3 200.0 348.3C203.5 326.2 206.0 311.8 209.0 293.6C211.9 275.4 214.9 252.6 217.9 238.9C220.9 225.3 223.7 216.6 226.9 211.6C230.1 206.6 232.1 209.2 237.0 208.9C242.0 208.6 250.5 209.3 256.8 209.8C263.0 210.2 270.5 209.2 274.7 211.6C278.9 214.0 279.5 221.3 281.8 224.4C284.2 227.4 285.0 228.0 289.0 229.8C293.0 231.7 301.4 233.5 305.7 235.3C310.1 237.1 311.9 238.3 315.3 240.8C318.7 243.2 322.9 246.5 326.1 249.9C329.2 253.2 330.0 257.8 334.4 260.8C338.8 263.8 345.4 265.1 352.3 267.9C359.3 270.6 368.3 274.6 376.2 277.2C384.2 279.9 392.2 282.0 400.1 283.7C408.1 285.4 416.1 286.6 424.0 287.7C432.0 288.7 440.0 289.4 447.9 290.0C455.9 290.7 463.9 291.1 471.8 291.4C479.8 291.8 487.8 292.0 495.7 292.3C503.7 292.5 511.6 292.6 519.6 292.8C527.6 292.9 535.5 293.0 543.5 293.1C551.5 293.2 553.5 293.2 567.4 293.3C581.3 293.3 607.2 293.4 627.1 293.5C647.1 293.5 667.0 293.6 686.9 293.6C706.8 293.6 727.7 293.6 746.6 293.6C765.6 293.6 791.4 293.6 800.4 293.6" stroke="#000" stroke-width="3.9" stroke-dasharray="13.7 12.7" stroke-dashoffset="16"/>
<path class="c" d="M83.5 158.0L86.5 216.4L89.5 276.7L92.5 336.3L95.4 392.5L98.4 443.2L101.4 486.7L104.4 522.2L107.4 549.5L110.4 568.8L113.4 580.9L116.4 587.1L119.3 588.4L122.3 585.9L125.3 580.8L128.3 574.0L131.3 566.1L134.3 557.8L137.3 549.6L140.3 541.7L143.2 534.4L146.2 527.7L149.2 521.8L152.2 516.5L155.2 511.9L158.2 507.8L161.2 504.2L164.2 500.7L167.1 497.2L170.1 493.5L173.1 489.3L176.1 484.4L179.1 478.5L182.1 471.4L185.1 462.8L188.0 452.5L191.0 440.3L194.0 426.3L197.0 410.5L200.0 392.9L203.0 373.8L206.0 353.4L209.0 332.3L211.9 310.7L214.9 289.4L217.9 268.6L220.9 248.9L223.9 230.8L226.9 214.4L229.9 200.1L232.9 188.0L235.8 178.0L238.8 170.3L241.8 164.6L244.8 160.9L247.8 158.8L250.8 158.2L253.8 158.9L256.8 160.6L259.7 163.1L262.7 166.3L265.7 170.0L268.7 174.1L271.7 178.3L274.7 182.7L277.7 187.1L280.6 191.4L283.6 195.7L286.6 199.8L289.6 203.7L292.6 207.5L295.6 211.0L298.6 214.3L301.6 217.4L304.5 220.2L307.5 222.8L310.5 225.2L313.5 227.4L316.5 229.4L319.5 231.1L322.5 232.7L325.5 234.1L328.4 235.2L331.4 236.3L334.4 237.1L337.4 237.8L340.4 238.4L343.4 238.8L346.4 239.1L349.4 239.3L352.3 239.4L355.3 239.4L358.3 239.3L361.3 239.1L364.3 238.9L367.3 238.6L370.3 238.3L373.2 238.0L376.2 237.6L379.2 237.3L382.2 237.0L385.2 236.7L388.2 236.4L391.2 236.2L394.2 236.1L397.1 236.1L400.1 236.2L403.1 236.5L406.1 236.9L409.1 237.5L412.1 238.2L415.1 239.2L418.1 240.4L421.0 241.8L424.0 243.5L427.0 245.4L430.0 247.6L433.0 250.0L436.0 252.7L439.0 255.6L441.9 258.7L444.9 262.0L447.9 265.5L450.9 269.2L453.9 273.0L456.9 276.9L459.9 280.9L462.9 284.8L465.8 288.8L468.8 292.7L471.8 296.6L474.8 300.3L477.8 303.8L480.8 307.2L483.8 310.3L486.8 313.3L489.7 315.9L492.7 318.3L495.7 320.4L498.7 322.3L501.7 323.9L504.7 325.1L507.7 326.2L510.7 326.9L513.6 327.4L516.6 327.7L519.6 327.7L522.6 327.5L525.6 327.1L528.6 326.6L531.6 325.9L534.5 325.0L537.5 324.1L540.5 323.0L543.5 321.8L546.5 320.5L549.5 319.2L552.5 317.8L555.5 316.3L558.4 314.8L561.4 313.3L564.4 311.8L567.4 310.2L570.4 308.7L573.4 307.1L576.4 305.6L579.4 304.0L582.3 302.5L585.3 301.0L588.3 299.5L591.3 298.0L594.3 296.5L597.3 295.1L600.3 293.8L603.3 292.4L606.2 291.1L609.2 289.8L612.2 288.6L615.2 287.4L618.2 286.2L621.2 285.1L624.2 284.1L627.1 283.1L630.1 282.1L633.1 281.2L636.1 280.3L639.1 279.5L642.1 278.8L645.1 278.1L648.1 277.5L651.0 277.0L654.0 276.5L657.0 276.1L660.0 275.7L663.0 275.5L666.0 275.3L669.0 275.1L672.0 275.1L674.9 275.1L677.9 275.3L680.9 275.4L683.9 275.7L686.9 276.1L689.9 276.5L692.9 277.0L695.9 277.5L698.8 278.2L701.8 278.9L704.8 279.7L707.8 280.5L710.8 281.4L713.8 282.3L716.8 283.3L719.7 284.3L722.7 285.4L725.7 286.4L728.7 287.5L731.7 288.6L734.7 289.8L737.7 290.9L740.7 292.0L743.6 293.0L746.6 294.1L749.6 295.1L752.6 296.1L755.6 297.1L758.6 298.0L761.6 298.8L764.6 299.6L767.5 300.4L770.5 301.1L773.5 301.7L776.5 302.2L779.5 302.7L782.5 303.2L785.5 303.5L788.5 303.8L791.4 304.0L794.4 304.2L797.4 304.3L800.4 304.3" stroke="#f00" stroke-width="3.9" stroke-dasharray="13.7 12.7" stroke-dashoffset="14"/>
<path class="c" d="M83.5 107.8C84.7 106.5 88.2 101.0 90.7 99.9C93.2 98.8 95.6 99.2 98.4 101.1C101.2 103.0 103.1 105.1 107.4 111.4C111.7 117.7 118.2 128.9 124.1 138.7C130.1 148.6 136.7 160.0 143.2 170.6C149.8 181.2 156.6 192.2 163.6 202.5C170.5 212.8 178.5 223.9 185.1 232.6C191.6 241.2 197.0 247.6 203.0 254.4C209.0 261.3 214.9 267.9 220.9 273.6C226.9 279.2 232.9 284.0 238.8 288.1C244.8 292.2 249.8 295.6 256.8 298.2C263.7 300.7 271.7 302.9 280.6 303.6C289.6 304.4 302.6 302.8 310.5 302.7C318.5 302.6 321.5 303.2 328.4 303.0C335.4 302.8 344.4 302.0 352.3 301.5C360.3 301.0 368.3 300.3 376.2 299.8C384.2 299.2 392.2 298.7 400.1 298.3C408.1 297.9 416.1 297.5 424.0 297.2C432.0 296.9 440.0 296.6 447.9 296.3C455.9 296.1 463.9 295.9 471.8 295.7C479.8 295.5 487.8 295.4 495.7 295.2C503.7 295.1 511.6 294.9 519.6 294.8C527.6 294.7 535.5 294.6 543.5 294.6C551.5 294.5 553.5 294.4 567.4 294.3C581.3 294.2 607.2 294.1 627.1 294.0C647.1 293.9 667.0 293.8 686.9 293.8C706.8 293.8 727.7 293.7 746.6 293.7C765.6 293.7 791.4 293.7 800.4 293.7" stroke="#000" stroke-width="3.9"/>
<path class="c" d="M83.5 107.3L86.5 103.0L89.5 100.4L92.5 99.5L95.4 100.3L98.4 102.8L101.4 106.8L104.4 112.2L107.4 118.7L110.4 126.3L113.4 134.7L116.4 143.6L119.3 153.0L122.3 162.6L125.3 172.3L128.3 182.0L131.3 191.7L134.3 201.1L137.3 210.3L140.3 219.3L143.2 228.0L146.2 236.3L149.2 244.4L152.2 252.3L155.2 259.8L158.2 267.1L161.2 274.1L164.2 280.9L167.1 287.5L170.1 294.0L173.1 300.3L176.1 306.4L179.1 312.4L182.1 318.4L185.1 324.2L188.0 329.9L191.0 335.6L194.0 341.3L197.0 346.8L200.0 352.4L203.0 357.8L206.0 363.2L209.0 368.6L211.9 373.9L214.9 379.1L217.9 384.2L220.9 389.1L223.9 393.9L226.9 398.6L229.9 403.0L232.9 407.3L235.8 411.2L238.8 414.9L241.8 418.2L244.8 421.2L247.8 423.8L250.8 426.1L253.8 427.9L256.8 429.2L259.7 430.1L262.7 430.6L265.7 430.7L268.7 430.3L271.7 429.5L274.7 428.3L277.7 426.7L280.6 424.9L283.6 422.7L286.6 420.2L289.6 417.5L292.6 414.7L295.6 411.6L298.6 408.5L301.6 405.2L304.5 401.9L307.5 398.6L310.5 395.2L313.5 391.9L316.5 388.6L319.5 385.4L322.5 382.3L325.5 379.2L328.4 376.3L331.4 373.4L334.4 370.7L337.4 368.1L340.4 365.6L343.4 363.3L346.4 361.0L349.4 358.9L352.3 357.0L355.3 355.1L358.3 353.4L361.3 351.9L364.3 350.4L367.3 349.1L370.3 347.9L373.2 346.8L376.2 345.8L379.2 344.9L382.2 344.1L385.2 343.5L388.2 342.9L391.2 342.5L394.2 342.1L397.1 341.8L400.1 341.7L403.1 341.6L406.1 341.6L409.1 341.7L412.1 341.8L415.1 342.1L418.1 342.4L421.0 342.8L424.0 343.3L427.0 343.9L430.0 344.5L433.0 345.2L436.0 346.0L439.0 346.8L441.9 347.7L444.9 348.7L447.9 349.7L450.9 350.8L453.9 352.0L456.9 353.2L459.9 354.5L462.9 355.8L465.8 357.1L468.8 358.6L471.8 360.0L474.8 361.5L477.8 363.0L480.8 364.6L483.8 366.2L486.8 367.8L489.7 369.5L492.7 371.1L495.7 372.8L498.7 374.5L501.7 376.2L504.7 377.8L507.7 379.5L510.7 381.2L513.6 382.8L516.6 384.4L519.6 385.9L522.6 387.4L525.6 388.9L528.6 390.3L531.6 391.6L534.5 392.9L537.5 394.1L540.5 395.2L543.5 396.2L546.5 397.1L549.5 397.9L552.5 398.7L555.5 399.3L558.4 399.8L561.4 400.2L564.4 400.5L567.4 400.7L570.4 400.8L573.4 400.8L576.4 400.7L579.4 400.4L582.3 400.1L585.3 399.7L588.3 399.3L591.3 398.7L594.3 398.1L597.3 397.4L600.3 396.6L603.3 395.8L606.2 395.0L609.2 394.1L612.2 393.1L615.2 392.2L618.2 391.2L621.2 390.3L624.2 389.3L627.1 388.3L630.1 387.3L633.1 386.3L636.1 385.4L639.1 384.5L642.1 383.5L645.1 382.7L648.1 381.8L651.0 381.0L654.0 380.2L657.0 379.5L660.0 378.8L663.0 378.1L666.0 377.5L669.0 377.0L672.0 376.5L674.9 376.0L677.9 375.6L680.9 375.2L683.9 374.9L686.9 374.6L689.9 374.4L692.9 374.2L695.9 374.1L698.8 374.0L701.8 374.0L704.8 374.0L707.8 374.0L710.8 374.1L713.8 374.3L716.8 374.5L719.7 374.7L722.7 374.9L725.7 375.2L728.7 375.5L731.7 375.9L734.7 376.3L737.7 376.7L740.7 377.1L743.6 377.5L746.6 378.0L749.6 378.5L752.6 379.0L755.6 379.5L758.6 380.1L761.6 380.6L764.6 381.1L767.5 381.7L770.5 382.2L773.5 382.8L776.5 383.3L779.5 383.9L782.5 384.4L785.5 384.9L788.5 385.4L791.4 385.9L794.4 386.3L797.4 386.8L800.4 387.2" stroke="#f00" stroke-width="3.9"/>
<path class="c" d="M83.5 190.7C84.7 203.3 88.2 241.5 90.7 266.3C93.2 291.0 95.6 319.4 98.4 339.1C101.2 358.9 103.1 374.8 107.4 384.7C111.7 394.6 118.2 397.2 124.1 398.4C130.1 399.6 136.7 394.1 143.2 392.0C149.8 389.9 155.1 388.8 163.6 385.6C172.0 382.4 185.8 376.7 193.7 372.9C201.7 369.1 204.8 367.7 211.3 362.8C217.9 358.0 225.3 350.7 232.9 343.7C240.4 336.7 248.8 327.5 256.8 320.9C264.7 314.4 273.7 307.9 280.6 304.5C287.6 301.2 291.6 302.0 298.6 300.9C305.5 299.9 314.5 298.8 322.5 298.0C330.4 297.3 338.4 296.8 346.4 296.4C354.3 296.0 362.3 295.7 370.3 295.4C378.2 295.2 386.2 295.0 394.2 294.9C402.1 294.7 410.1 294.6 418.1 294.5C426.0 294.4 434.0 294.3 442.0 294.3C449.9 294.2 457.9 294.2 465.8 294.1C473.8 294.1 481.8 294.0 489.7 294.0C497.7 294.0 505.7 293.9 513.6 293.9C521.6 293.9 529.6 293.8 537.5 293.8C545.5 293.8 547.5 293.8 561.4 293.8C575.4 293.8 601.3 293.7 621.2 293.7C641.1 293.7 661.0 293.7 680.9 293.6C700.8 293.6 720.7 293.6 740.7 293.6C760.6 293.6 790.4 293.6 800.4 293.6" stroke="#000" stroke-width="3.9" stroke-dasharray="13.7 12.7" stroke-dashoffset="23"/>
<path class="c" d="M83.5 190.9L86.5 224.0L89.5 258.4L92.5 293.0L95.4 326.8L98.4 358.7L101.4 387.9L104.4 413.7L107.4 435.6L110.4 453.5L113.4 467.3L116.4 477.4L119.3 484.0L122.3 487.5L125.3 488.4L128.3 487.3L131.3 484.4L134.3 480.4L137.3 475.5L140.3 470.0L143.2 464.3L146.2 458.4L149.2 452.6L152.2 447.0L155.2 441.7L158.2 436.7L161.2 432.1L164.2 427.9L167.1 424.2L170.1 420.8L173.1 417.8L176.1 415.2L179.1 413.0L182.1 411.1L185.1 409.4L188.0 408.0L191.0 406.7L194.0 405.6L197.0 404.6L200.0 403.5L203.0 402.5L206.0 401.3L209.0 400.0L211.9 398.4L214.9 396.5L217.9 394.2L220.9 391.6L223.9 388.4L226.9 384.7L229.9 380.4L232.9 375.5L235.8 369.9L238.8 363.8L241.8 357.1L244.8 349.8L247.8 342.0L250.8 333.8L253.8 325.3L256.8 316.5L259.7 307.7L262.7 298.8L265.7 290.1L268.7 281.7L271.7 273.7L274.7 266.1L277.7 259.1L280.6 252.7L283.6 247.0L286.6 242.1L289.6 237.8L292.6 234.3L295.6 231.5L298.6 229.4L301.6 227.9L304.5 227.1L307.5 226.8L310.5 227.0L313.5 227.6L316.5 228.6L319.5 230.0L322.5 231.6L325.5 233.5L328.4 235.6L331.4 237.9L334.4 240.3L337.4 242.7L340.4 245.3L343.4 247.8L346.4 250.4L349.4 253.0L352.3 255.6L355.3 258.2L358.3 260.7L361.3 263.2L364.3 265.7L367.3 268.1L370.3 270.5L373.2 272.8L376.2 275.0L379.2 277.2L382.2 279.3L385.2 281.4L388.2 283.4L391.2 285.4L394.2 287.3L397.1 289.2L400.1 291.0L403.1 292.8L406.1 294.5L409.1 296.2L412.1 297.9L415.1 299.5L418.1 301.1L421.0 302.6L424.0 304.1L427.0 305.6L430.0 307.0L433.0 308.4L436.0 309.8L439.0 311.1L441.9 312.4L444.9 313.6L447.9 314.9L450.9 316.1L453.9 317.2L456.9 318.3L459.9 319.4L462.9 320.4L465.8 321.4L468.8 322.3L471.8 323.1L474.8 323.9L477.8 324.6L480.8 325.3L483.8 325.8L486.8 326.3L489.7 326.7L492.7 327.0L495.7 327.2L498.7 327.2L501.7 327.2L504.7 327.0L507.7 326.7L510.7 326.3L513.6 325.8L516.6 325.1L519.6 324.3L522.6 323.3L525.6 322.2L528.6 321.0L531.6 319.6L534.5 318.1L537.5 316.5L540.5 314.8L543.5 313.0L546.5 311.1L549.5 309.1L552.5 307.1L555.5 305.0L558.4 302.8L561.4 300.7L564.4 298.6L567.4 296.4L570.4 294.3L573.4 292.3L576.4 290.3L579.4 288.4L582.3 286.5L585.3 284.8L588.3 283.2L591.3 281.7L594.3 280.3L597.3 279.1L600.3 277.9L603.3 277.0L606.2 276.1L609.2 275.4L612.2 274.9L615.2 274.4L618.2 274.1L621.2 274.0L624.2 273.9L627.1 274.0L630.1 274.1L633.1 274.4L636.1 274.7L639.1 275.2L642.1 275.7L645.1 276.3L648.1 277.0L651.0 277.7L654.0 278.5L657.0 279.3L660.0 280.1L663.0 281.0L666.0 281.9L669.0 282.9L672.0 283.8L674.9 284.8L677.9 285.8L680.9 286.7L683.9 287.7L686.9 288.7L689.9 289.6L692.9 290.6L695.9 291.5L698.8 292.5L701.8 293.4L704.8 294.3L707.8 295.1L710.8 296.0L713.8 296.8L716.8 297.5L719.7 298.3L722.7 299.0L725.7 299.7L728.7 300.3L731.7 300.9L734.7 301.4L737.7 302.0L740.7 302.4L743.6 302.9L746.6 303.2L749.6 303.6L752.6 303.8L755.6 304.1L758.6 304.3L761.6 304.4L764.6 304.5L767.5 304.5L770.5 304.5L773.5 304.5L776.5 304.3L779.5 304.2L782.5 304.0L785.5 303.7L788.5 303.4L791.4 303.1L794.4 302.7L797.4 302.3L800.4 301.9" stroke="#f00" stroke-width="3.9" stroke-dasharray="13.7 12.7" stroke-dashoffset="25"/>
<path class="c" d="M83.5 387.4C85.0 388.3 89.9 391.5 92.5 392.9C95.1 394.3 95.5 396.7 99.0 395.6C102.5 394.6 108.0 391.1 113.4 386.5C118.7 382.0 125.3 374.2 131.3 368.3C137.3 362.4 143.4 356.8 149.2 351.0C155.0 345.2 159.0 342.0 165.9 333.7C172.9 325.3 181.8 309.7 191.0 300.9C200.3 292.1 210.6 285.4 221.5 280.8C232.5 276.3 244.9 274.2 256.8 273.6C268.6 273.0 283.6 277.5 292.6 277.2C301.6 276.9 303.5 272.4 310.5 271.6C317.5 270.9 326.4 272.0 334.4 272.8C342.4 273.6 350.3 275.3 358.3 276.5C366.3 277.7 374.2 279.1 382.2 280.2C390.2 281.3 398.1 282.3 406.1 283.2C414.1 284.1 422.0 284.9 430.0 285.6C438.0 286.3 445.9 286.9 453.9 287.4C461.9 288.0 469.8 288.4 477.8 288.9C485.8 289.3 493.7 289.6 501.7 289.9C509.7 290.3 517.6 290.5 525.6 290.8C533.6 291.0 541.5 291.2 549.5 291.4C557.5 291.6 559.4 291.7 573.4 291.9C587.3 292.1 613.2 292.5 633.1 292.7C653.0 292.9 673.0 293.0 692.9 293.1C712.8 293.2 734.7 293.3 752.6 293.4C770.5 293.4 792.4 293.4 800.4 293.5" stroke="#000" stroke-width="3.9"/>
<path class="c" d="M83.5 387.8L86.5 389.5L89.5 391.1L92.5 392.7L95.4 394.2L98.4 395.6L101.4 396.9L104.4 398.1L107.4 399.1L110.4 400.1L113.4 401.0L116.4 401.7L119.3 402.3L122.3 402.7L125.3 403.1L128.3 403.3L131.3 403.4L134.3 403.3L137.3 403.2L140.3 402.9L143.2 402.5L146.2 402.0L149.2 401.4L152.2 400.7L155.2 399.9L158.2 399.1L161.2 398.2L164.2 397.2L167.1 396.2L170.1 395.1L173.1 394.0L176.1 392.9L179.1 391.7L182.1 390.6L185.1 389.4L188.0 388.3L191.0 387.1L194.0 386.0L197.0 384.9L200.0 383.8L203.0 382.7L206.0 381.7L209.0 380.7L211.9 379.8L214.9 378.9L217.9 378.1L220.9 377.3L223.9 376.5L226.9 375.9L229.9 375.2L232.9 374.6L235.8 374.1L238.8 373.7L241.8 373.3L244.8 372.9L247.8 372.6L250.8 372.4L253.8 372.2L256.8 372.0L259.7 372.0L262.7 371.9L265.7 372.0L268.7 372.0L271.7 372.2L274.7 372.3L277.7 372.6L280.6 372.8L283.6 373.1L286.6 373.4L289.6 373.8L292.6 374.2L295.6 374.7L298.6 375.2L301.6 375.7L304.5 376.2L307.5 376.7L310.5 377.3L313.5 377.9L316.5 378.5L319.5 379.1L322.5 379.8L325.5 380.4L328.4 381.0L331.4 381.7L334.4 382.3L337.4 382.9L340.4 383.6L343.4 384.2L346.4 384.8L349.4 385.4L352.3 386.0L355.3 386.5L358.3 387.0L361.3 387.5L364.3 388.0L367.3 388.5L370.3 388.9L373.2 389.3L376.2 389.6L379.2 389.9L382.2 390.2L385.2 390.4L388.2 390.7L391.2 390.8L394.2 391.0L397.1 391.0L400.1 391.1L403.1 391.1L406.1 391.1L409.1 391.1L412.1 391.0L415.1 390.9L418.1 390.7L421.0 390.5L424.0 390.3L427.0 390.1L430.0 389.9L433.0 389.6L436.0 389.3L439.0 389.0L441.9 388.7L444.9 388.3L447.9 388.0L450.9 387.6L453.9 387.2L456.9 386.9L459.9 386.5L462.9 386.1L465.8 385.8L468.8 385.4L471.8 385.1L474.8 384.7L477.8 384.4L480.8 384.0L483.8 383.7L486.8 383.4L489.7 383.1L492.7 382.8L495.7 382.6L498.7 382.3L501.7 382.1L504.7 381.9L507.7 381.7L510.7 381.5L513.6 381.4L516.6 381.2L519.6 381.1L522.6 381.0L525.6 380.9L528.6 380.9L531.6 380.8L534.5 380.8L537.5 380.8L540.5 380.8L543.5 380.9L546.5 380.9L549.5 381.0L552.5 381.1L555.5 381.2L558.4 381.3L561.4 381.4L564.4 381.5L567.4 381.7L570.4 381.9L573.4 382.0L576.4 382.2L579.4 382.4L582.3 382.6L585.3 382.8L588.3 383.0L591.3 383.2L594.3 383.4L597.3 383.6L600.3 383.8L603.3 384.0L606.2 384.2L609.2 384.4L612.2 384.6L615.2 384.8L618.2 385.0L621.2 385.2L624.2 385.4L627.1 385.5L630.1 385.7L633.1 385.8L636.1 386.0L639.1 386.1L642.1 386.2L645.1 386.3L648.1 386.4L651.0 386.5L654.0 386.6L657.0 386.7L660.0 386.7L663.0 386.8L666.0 386.8L669.0 386.8L672.0 386.8L674.9 386.8L677.9 386.8L680.9 386.8L683.9 386.8L686.9 386.7L689.9 386.7L692.9 386.6L695.9 386.5L698.8 386.4L701.8 386.4L704.8 386.3L707.8 386.2L710.8 386.1L713.8 386.0L716.8 385.9L719.7 385.7L722.7 385.6L725.7 385.5L728.7 385.4L731.7 385.3L734.7 385.2L737.7 385.0L740.7 384.9L743.6 384.8L746.6 384.7L749.6 384.6L752.6 384.5L755.6 384.4L758.6 384.3L761.6 384.2L764.6 384.1L767.5 384.0L770.5 383.9L773.5 383.9L776.5 383.8L779.5 383.7L782.5 383.7L785.5 383.6L788.5 383.6L791.4 383.5L794.4 383.5L797.4 383.5L800.4 383.5" stroke="#f00" stroke-width="3.9"/>
<path class="c" d="M83.5 328.2C84.5 331.6 87.6 347.3 89.5 348.3C91.4 349.2 93.3 342.3 94.9 333.7C96.4 325.0 97.7 307.6 99.0 296.3C100.3 285.1 101.6 274.7 102.6 266.3C103.7 257.8 103.6 250.5 105.3 245.8C107.0 241.1 108.6 240.3 112.8 238.0C117.0 235.7 123.3 232.1 130.5 231.9C137.7 231.8 146.5 235.6 155.8 237.1C165.0 238.6 180.1 239.3 186.0 240.8C191.9 242.2 185.2 241.5 191.0 245.8C196.8 250.0 210.0 258.3 220.9 266.3C231.9 274.2 244.8 287.8 256.8 293.6C268.7 299.4 283.6 299.5 292.6 300.9C301.6 302.2 303.5 301.8 310.5 301.7C317.5 301.7 326.4 301.1 334.4 300.7C342.4 300.3 350.3 299.7 358.3 299.3C366.3 298.8 374.2 298.4 382.2 298.0C390.2 297.6 398.1 297.3 406.1 297.0C414.1 296.6 422.0 296.4 430.0 296.2C438.0 295.9 445.9 295.7 453.9 295.6C461.9 295.4 469.8 295.2 477.8 295.1C485.8 295.0 493.7 294.9 501.7 294.8C509.7 294.7 517.6 294.6 525.6 294.5C533.6 294.4 541.5 294.4 549.5 294.3C557.5 294.2 559.4 294.2 573.4 294.1C587.3 294.1 613.2 293.9 633.1 293.9C653.0 293.8 673.0 293.8 692.9 293.7C712.8 293.7 734.7 293.7 752.6 293.7C770.5 293.7 792.4 293.7 800.4 293.6" stroke="#000" stroke-width="3.9" stroke-dasharray="13.7 12.7" stroke-dashoffset="4"/>
<path class="c" d="M83.5 328.5L86.5 327.2L89.5 325.8L92.5 324.2L95.4 322.4L98.4 320.5L101.4 318.5L104.4 316.4L107.4 314.1L110.4 311.7L113.4 309.3L116.4 306.8L119.3 304.2L122.3 301.7L125.3 299.1L128.3 296.5L131.3 294.0L134.3 291.6L137.3 289.2L140.3 286.9L143.2 284.7L146.2 282.7L149.2 280.8L152.2 279.0L155.2 277.4L158.2 276.0L161.2 274.7L164.2 273.6L167.1 272.6L170.1 271.9L173.1 271.3L176.1 270.8L179.1 270.5L182.1 270.4L185.1 270.4L188.0 270.5L191.0 270.8L194.0 271.2L197.0 271.7L200.0 272.2L203.0 272.9L206.0 273.6L209.0 274.5L211.9 275.3L214.9 276.3L217.9 277.2L220.9 278.3L223.9 279.3L226.9 280.4L229.9 281.5L232.9 282.6L235.8 283.7L238.8 284.9L241.8 286.0L244.8 287.1L247.8 288.2L250.8 289.3L253.8 290.4L256.8 291.5L259.7 292.6L262.7 293.6L265.7 294.6L268.7 295.6L271.7 296.5L274.7 297.5L277.7 298.3L280.6 299.2L283.6 300.0L286.6 300.8L289.6 301.5L292.6 302.2L295.6 302.8L298.6 303.4L301.6 303.9L304.5 304.4L307.5 304.9L310.5 305.2L313.5 305.6L316.5 305.9L319.5 306.1L322.5 306.2L325.5 306.4L328.4 306.4L331.4 306.4L334.4 306.3L337.4 306.2L340.4 306.1L343.4 305.8L346.4 305.5L349.4 305.2L352.3 304.8L355.3 304.4L358.3 303.9L361.3 303.4L364.3 302.8L367.3 302.2L370.3 301.6L373.2 300.9L376.2 300.3L379.2 299.6L382.2 298.8L385.2 298.1L388.2 297.3L391.2 296.6L394.2 295.8L397.1 295.1L400.1 294.4L403.1 293.6L406.1 292.9L409.1 292.3L412.1 291.6L415.1 291.0L418.1 290.4L421.0 289.8L424.0 289.3L427.0 288.8L430.0 288.3L433.0 287.9L436.0 287.6L439.0 287.3L441.9 287.0L444.9 286.7L447.9 286.6L450.9 286.4L453.9 286.3L456.9 286.2L459.9 286.2L462.9 286.2L465.8 286.3L468.8 286.4L471.8 286.5L474.8 286.7L477.8 286.8L480.8 287.1L483.8 287.3L486.8 287.6L489.7 287.9L492.7 288.2L495.7 288.5L498.7 288.8L501.7 289.2L504.7 289.6L507.7 289.9L510.7 290.3L513.6 290.7L516.6 291.1L519.6 291.5L522.6 291.9L525.6 292.3L528.6 292.6L531.6 293.0L534.5 293.4L537.5 293.8L540.5 294.1L543.5 294.5L546.5 294.8L549.5 295.1L552.5 295.4L555.5 295.7L558.4 296.0L561.4 296.2L564.4 296.5L567.4 296.7L570.4 296.9L573.4 297.1L576.4 297.2L579.4 297.4L582.3 297.5L585.3 297.6L588.3 297.7L591.3 297.7L594.3 297.7L597.3 297.8L600.3 297.8L603.3 297.7L606.2 297.7L609.2 297.6L612.2 297.5L615.2 297.4L618.2 297.3L621.2 297.2L624.2 297.1L627.1 296.9L630.1 296.7L633.1 296.5L636.1 296.3L639.1 296.1L642.1 295.9L645.1 295.7L648.1 295.5L651.0 295.3L654.0 295.0L657.0 294.8L660.0 294.6L663.0 294.3L666.0 294.1L669.0 293.9L672.0 293.6L674.9 293.4L677.9 293.2L680.9 293.0L683.9 292.8L686.9 292.6L689.9 292.4L692.9 292.3L695.9 292.1L698.8 292.0L701.8 291.8L704.8 291.7L707.8 291.6L710.8 291.5L713.8 291.4L716.8 291.4L719.7 291.3L722.7 291.3L725.7 291.2L728.7 291.2L731.7 291.2L734.7 291.2L737.7 291.2L740.7 291.3L743.6 291.3L746.6 291.4L749.6 291.4L752.6 291.5L755.6 291.6L758.6 291.7L761.6 291.8L764.6 291.9L767.5 292.0L770.5 292.1L773.5 292.2L776.5 292.3L779.5 292.4L782.5 292.6L785.5 292.7L788.5 292.8L791.4 293.0L794.4 293.1L797.4 293.2L800.4 293.3" stroke="#f00" stroke-width="3.9" stroke-dasharray="13.7 12.7" stroke-dashoffset="10"/>
<path class="c" d="M83.5 255.3C86.5 258.4 95.4 268.7 101.4 273.6C107.4 278.4 112.4 281.6 119.3 284.5C126.3 287.4 136.3 289.6 143.2 290.9C150.2 292.1 154.2 291.8 161.2 292.1C168.1 292.4 177.1 292.7 185.1 292.9C193.0 293.1 201.0 293.2 209.0 293.3C216.9 293.4 224.9 293.4 232.9 293.5C240.8 293.5 248.8 293.5 256.8 293.5C264.7 293.6 272.7 293.6 280.6 293.6C288.6 293.6 296.6 293.6 304.5 293.6C312.5 293.6 320.5 293.6 328.4 293.6C336.4 293.6 344.4 293.6 352.3 293.6C360.3 293.6 368.3 293.6 376.2 293.6C384.2 293.6 392.2 293.6 400.1 293.6C408.1 293.6 416.1 293.6 424.0 293.6C432.0 293.6 440.0 293.6 447.9 293.6C455.9 293.6 463.9 293.6 471.8 293.6C479.8 293.6 487.8 293.6 495.7 293.6C503.7 293.6 511.6 293.6 519.6 293.6C527.6 293.6 535.5 293.6 543.5 293.6C551.5 293.6 553.5 293.6 567.4 293.6C581.3 293.6 607.2 293.6 627.1 293.6C647.1 293.6 667.0 293.6 686.9 293.6C706.8 293.6 727.7 293.6 746.6 293.6C765.6 293.6 791.4 293.6 800.4 293.6" stroke="#000" stroke-width="3.9"/>
<path class="c" d="M83.5 255.1L86.5 258.2L89.5 261.0L92.5 263.8L95.4 266.4L98.4 268.9L101.4 271.2L104.4 273.5L107.4 275.6L110.4 277.7L113.4 279.6L116.4 281.5L119.3 283.3L122.3 285.0L125.3 286.7L128.3 288.3L131.3 289.9L134.3 291.4L137.3 292.9L140.3 294.3L143.2 295.7L146.2 297.0L149.2 298.4L152.2 299.7L155.2 301.0L158.2 302.3L161.2 303.6L164.2 304.9L167.1 306.1L170.1 307.4L173.1 308.7L176.1 309.9L179.1 311.2L182.1 312.5L185.1 313.8L188.0 315.1L191.0 316.5L194.0 317.8L197.0 319.2L200.0 320.6L203.0 322.0L206.0 323.5L209.0 325.0L211.9 326.5L214.9 328.0L217.9 329.6L220.9 331.2L223.9 332.9L226.9 334.6L229.9 336.3L232.9 338.1L235.8 339.9L238.8 341.8L241.8 343.7L244.8 345.6L247.8 347.6L250.8 349.6L253.8 351.6L256.8 353.7L259.7 355.8L262.7 358.0L265.7 360.2L268.7 362.4L271.7 364.6L274.7 366.8L277.7 369.0L280.6 371.3L283.6 373.5L286.6 375.7L289.6 377.9L292.6 380.1L295.6 382.3L298.6 384.4L301.6 386.4L304.5 388.4L307.5 390.4L310.5 392.2L313.5 394.0L316.5 395.7L319.5 397.2L322.5 398.7L325.5 400.0L328.4 401.2L331.4 402.3L334.4 403.2L337.4 404.0L340.4 404.6L343.4 405.1L346.4 405.4L349.4 405.6L352.3 405.7L355.3 405.6L358.3 405.3L361.3 404.9L364.3 404.4L367.3 403.8L370.3 403.1L373.2 402.3L376.2 401.3L379.2 400.3L382.2 399.3L385.2 398.1L388.2 396.9L391.2 395.7L394.2 394.4L397.1 393.1L400.1 391.8L403.1 390.5L406.1 389.2L409.1 387.9L412.1 386.6L415.1 385.3L418.1 384.0L421.0 382.8L424.0 381.7L427.0 380.5L430.0 379.5L433.0 378.4L436.0 377.4L439.0 376.5L441.9 375.7L444.9 374.9L447.9 374.1L450.9 373.4L453.9 372.8L456.9 372.3L459.9 371.8L462.9 371.3L465.8 371.0L468.8 370.7L471.8 370.4L474.8 370.2L477.8 370.1L480.8 370.1L483.8 370.1L486.8 370.1L489.7 370.2L492.7 370.4L495.7 370.6L498.7 370.8L501.7 371.1L504.7 371.5L507.7 371.9L510.7 372.3L513.6 372.8L516.6 373.3L519.6 373.8L522.6 374.4L525.6 375.0L528.6 375.6L531.6 376.3L534.5 377.0L537.5 377.6L540.5 378.3L543.5 379.1L546.5 379.8L549.5 380.5L552.5 381.2L555.5 381.9L558.4 382.7L561.4 383.4L564.4 384.1L567.4 384.8L570.4 385.4L573.4 386.1L576.4 386.7L579.4 387.3L582.3 387.9L585.3 388.4L588.3 388.9L591.3 389.4L594.3 389.8L597.3 390.2L600.3 390.6L603.3 390.9L606.2 391.2L609.2 391.4L612.2 391.6L615.2 391.8L618.2 391.9L621.2 391.9L624.2 391.9L627.1 391.9L630.1 391.9L633.1 391.8L636.1 391.6L639.1 391.5L642.1 391.3L645.1 391.0L648.1 390.8L651.0 390.5L654.0 390.2L657.0 389.8L660.0 389.5L663.0 389.1L666.0 388.7L669.0 388.3L672.0 387.9L674.9 387.5L677.9 387.1L680.9 386.7L683.9 386.3L686.9 385.9L689.9 385.4L692.9 385.0L695.9 384.6L698.8 384.3L701.8 383.9L704.8 383.5L707.8 383.2L710.8 382.8L713.8 382.5L716.8 382.2L719.7 382.0L722.7 381.7L725.7 381.5L728.7 381.2L731.7 381.0L734.7 380.9L737.7 380.7L740.7 380.6L743.6 380.5L746.6 380.4L749.6 380.3L752.6 380.3L755.6 380.3L758.6 380.3L761.6 380.3L764.6 380.3L767.5 380.4L770.5 380.5L773.5 380.6L776.5 380.7L779.5 380.8L782.5 381.0L785.5 381.1L788.5 381.3L791.4 381.5L794.4 381.7L797.4 381.9L800.4 382.1" stroke="#f00" stroke-width="3.9"/>
<path class="c" d="M83.5 355.5C85.0 356.2 88.5 361.9 92.5 359.2C96.4 356.5 100.9 347.0 107.4 339.1C113.9 331.3 122.3 318.7 131.3 311.8C140.3 305.0 153.2 300.4 161.2 298.2C169.1 295.9 172.1 298.6 179.1 298.5C186.1 298.5 195.0 298.1 203.0 297.9C210.9 297.6 218.9 297.3 226.9 297.0C234.8 296.7 242.8 296.4 250.8 296.2C258.7 296.0 266.7 295.8 274.7 295.6C282.6 295.4 290.6 295.3 298.6 295.1C306.5 295.0 314.5 294.9 322.5 294.8C330.4 294.7 338.4 294.6 346.4 294.5C354.3 294.4 362.3 294.4 370.3 294.3C378.2 294.2 386.2 294.2 394.2 294.1C402.1 294.1 410.1 294.0 418.1 294.0C426.0 294.0 434.0 293.9 442.0 293.9C449.9 293.9 457.9 293.9 465.8 293.8C473.8 293.8 481.8 293.8 489.7 293.8C497.7 293.8 505.7 293.8 513.6 293.7C521.6 293.7 529.6 293.7 537.5 293.7C545.5 293.7 547.5 293.7 561.4 293.7C575.4 293.7 601.3 293.7 621.2 293.6C641.1 293.6 661.0 293.6 680.9 293.6C700.8 293.6 720.7 293.6 740.7 293.6C760.6 293.6 790.4 293.6 800.4 293.6" stroke="#000" stroke-width="3.9" stroke-dasharray="13.7 12.7" stroke-dashoffset="11"/>
<path class="c" d="M83.5 355.6L86.5 352.6L89.5 349.7L92.5 346.9L95.4 344.3L98.4 341.9L101.4 339.6L104.4 337.5L107.4 335.5L110.4 333.7L113.4 332.0L116.4 330.4L119.3 328.9L122.3 327.6L125.3 326.4L128.3 325.3L131.3 324.3L134.3 323.4L137.3 322.6L140.3 321.9L143.2 321.2L146.2 320.7L149.2 320.2L152.2 319.8L155.2 319.5L158.2 319.3L161.2 319.1L164.2 319.0L167.1 318.9L170.1 318.9L173.1 319.0L176.1 319.1L179.1 319.3L182.1 319.5L185.1 319.8L188.0 320.1L191.0 320.5L194.0 320.9L197.0 321.4L200.0 321.9L203.0 322.5L206.0 323.0L209.0 323.6L211.9 324.3L214.9 325.0L217.9 325.7L220.9 326.4L223.9 327.2L226.9 327.9L229.9 328.7L232.9 329.5L235.8 330.3L238.8 331.1L241.8 331.9L244.8 332.7L247.8 333.4L250.8 334.2L253.8 334.9L256.8 335.6L259.7 336.2L262.7 336.8L265.7 337.3L268.7 337.7L271.7 338.0L274.7 338.2L277.7 338.4L280.6 338.4L283.6 338.2L286.6 338.0L289.6 337.6L292.6 337.0L295.6 336.2L298.6 335.3L301.6 334.2L304.5 332.9L307.5 331.5L310.5 329.8L313.5 327.9L316.5 325.9L319.5 323.7L322.5 321.4L325.5 318.9L328.4 316.3L331.4 313.5L334.4 310.7L337.4 307.8L340.4 304.8L343.4 301.8L346.4 298.9L349.4 295.9L352.3 293.0L355.3 290.2L358.3 287.5L361.3 284.9L364.3 282.4L367.3 280.1L370.3 278.0L373.2 276.0L376.2 274.3L379.2 272.7L382.2 271.3L385.2 270.2L388.2 269.2L391.2 268.4L394.2 267.9L397.1 267.5L400.1 267.2L403.1 267.2L406.1 267.3L409.1 267.5L412.1 267.9L415.1 268.4L418.1 269.1L421.0 269.8L424.0 270.6L427.0 271.5L430.0 272.5L433.0 273.5L436.0 274.6L439.0 275.8L441.9 276.9L444.9 278.1L447.9 279.4L450.9 280.6L453.9 281.9L456.9 283.1L459.9 284.4L462.9 285.6L465.8 286.9L468.8 288.1L471.8 289.4L474.8 290.6L477.8 291.7L480.8 292.9L483.8 294.0L486.8 295.1L489.7 296.2L492.7 297.3L495.7 298.3L498.7 299.2L501.7 300.1L504.7 301.0L507.7 301.9L510.7 302.7L513.6 303.4L516.6 304.1L519.6 304.8L522.6 305.4L525.6 305.9L528.6 306.4L531.6 306.8L534.5 307.2L537.5 307.5L540.5 307.7L543.5 307.9L546.5 308.0L549.5 308.1L552.5 308.1L555.5 308.0L558.4 307.9L561.4 307.7L564.4 307.5L567.4 307.1L570.4 306.8L573.4 306.3L576.4 305.9L579.4 305.3L582.3 304.7L585.3 304.1L588.3 303.4L591.3 302.7L594.3 301.9L597.3 301.2L600.3 300.4L603.3 299.5L606.2 298.7L609.2 297.8L612.2 297.0L615.2 296.1L618.2 295.3L621.2 294.5L624.2 293.6L627.1 292.8L630.1 292.0L633.1 291.3L636.1 290.6L639.1 289.9L642.1 289.3L645.1 288.7L648.1 288.1L651.0 287.6L654.0 287.1L657.0 286.7L660.0 286.4L663.0 286.1L666.0 285.8L669.0 285.6L672.0 285.4L674.9 285.3L677.9 285.2L680.9 285.2L683.9 285.3L686.9 285.3L689.9 285.4L692.9 285.6L695.9 285.8L698.8 286.0L701.8 286.2L704.8 286.5L707.8 286.8L710.8 287.1L713.8 287.5L716.8 287.9L719.7 288.3L722.7 288.7L725.7 289.1L728.7 289.5L731.7 289.9L734.7 290.4L737.7 290.8L740.7 291.3L743.6 291.7L746.6 292.1L749.6 292.6L752.6 293.0L755.6 293.4L758.6 293.8L761.6 294.2L764.6 294.6L767.5 295.0L770.5 295.3L773.5 295.7L776.5 296.0L779.5 296.3L782.5 296.6L785.5 296.9L788.5 297.1L791.4 297.3L794.4 297.5L797.4 297.7L800.4 297.9" stroke="#f00" stroke-width="3.9" stroke-dasharray="13.7 12.7" stroke-dashoffset="21"/>
<path class="c" d="M83.5 138.7C85.0 138.2 89.7 136.1 92.5 135.5C95.2 134.9 96.4 133.1 100.2 135.1C104.1 137.0 110.4 141.4 115.4 147.2C120.5 153.0 125.5 159.9 130.5 170.0C135.6 180.1 140.2 195.7 145.6 208.0C151.1 220.2 156.6 232.8 163.4 243.3C170.1 253.8 178.0 263.8 186.0 271.0C194.0 278.2 202.9 282.5 211.3 286.3C219.8 290.1 229.5 291.8 236.7 293.6C244.0 295.4 247.7 296.1 254.7 296.8C261.6 297.5 270.6 297.7 278.6 297.8C286.5 297.9 294.5 297.6 302.5 297.4C310.4 297.2 318.4 297.0 326.3 296.7C334.3 296.5 342.3 296.3 350.2 296.1C358.2 295.9 366.2 295.7 374.1 295.6C382.1 295.4 390.1 295.2 398.0 295.1C406.0 295.0 414.0 294.9 421.9 294.8C429.9 294.7 437.9 294.6 445.8 294.5C453.8 294.4 461.8 294.4 469.7 294.3C477.7 294.2 485.7 294.2 493.6 294.1C501.6 294.1 509.6 294.1 517.5 294.0C525.5 294.0 533.5 294.0 541.4 293.9C549.4 293.9 551.4 293.9 565.3 293.9C579.3 293.8 605.1 293.8 625.1 293.7C645.0 293.7 664.9 293.7 684.8 293.7C704.7 293.7 725.3 293.6 744.5 293.6C763.8 293.6 791.1 293.6 800.4 293.6" stroke="#000" stroke-width="3.9"/>
<path class="c" d="M83.5 142.4L86.5 138.1L89.5 134.6L92.5 132.1L95.4 130.4L98.4 129.7L101.4 129.9L104.4 131.0L107.4 133.0L110.4 135.7L113.4 139.1L116.4 143.2L119.3 147.8L122.3 152.9L125.3 158.3L128.3 164.0L131.3 169.9L134.3 175.9L137.3 181.9L140.3 187.9L143.2 193.9L146.2 199.8L149.2 205.5L152.2 211.1L155.2 216.5L158.2 221.7L161.2 226.7L164.2 231.6L167.1 236.2L170.1 240.6L173.1 244.9L176.1 248.9L179.1 252.8L182.1 256.4L185.1 260.0L188.0 263.3L191.0 266.5L194.0 269.6L197.0 272.5L200.0 275.3L203.0 278.0L206.0 280.6L209.0 283.1L211.9 285.6L214.9 287.9L217.9 290.2L220.9 292.4L223.9 294.5L226.9 296.6L229.9 298.6L232.9 300.6L235.8 302.6L238.8 304.6L241.8 306.5L244.8 308.4L247.8 310.3L250.8 312.2L253.8 314.1L256.8 316.0L259.7 317.9L262.7 319.8L265.7 321.7L268.7 323.6L271.7 325.6L274.7 327.6L277.7 329.6L280.6 331.6L283.6 333.6L286.6 335.7L289.6 337.8L292.6 340.0L295.6 342.1L298.6 344.3L301.6 346.6L304.5 348.8L307.5 351.1L310.5 353.5L313.5 355.8L316.5 358.2L319.5 360.6L322.5 363.0L325.5 365.4L328.4 367.9L331.4 370.3L334.4 372.7L337.4 375.2L340.4 377.6L343.4 379.9L346.4 382.3L349.4 384.5L352.3 386.8L355.3 388.9L358.3 391.0L361.3 393.0L364.3 394.9L367.3 396.7L370.3 398.4L373.2 400.0L376.2 401.4L379.2 402.7L382.2 403.8L385.2 404.8L388.2 405.6L391.2 406.3L394.2 406.8L397.1 407.1L400.1 407.3L403.1 407.3L406.1 407.1L409.1 406.8L412.1 406.4L415.1 405.8L418.1 405.1L421.0 404.3L424.0 403.3L427.0 402.3L430.0 401.2L433.0 400.0L436.0 398.7L439.0 397.4L441.9 396.0L444.9 394.6L447.9 393.2L450.9 391.7L453.9 390.3L456.9 388.9L459.9 387.5L462.9 386.1L465.8 384.7L468.8 383.3L471.8 382.0L474.8 380.8L477.8 379.6L480.8 378.4L483.8 377.3L486.8 376.3L489.7 375.3L492.7 374.4L495.7 373.6L498.7 372.8L501.7 372.1L504.7 371.4L507.7 370.8L510.7 370.3L513.6 369.9L516.6 369.5L519.6 369.2L522.6 369.0L525.6 368.8L528.6 368.7L531.6 368.6L534.5 368.6L537.5 368.7L540.5 368.8L543.5 369.0L546.5 369.2L549.5 369.5L552.5 369.9L555.5 370.3L558.4 370.7L561.4 371.2L564.4 371.7L567.4 372.2L570.4 372.8L573.4 373.4L576.4 374.1L579.4 374.8L582.3 375.5L585.3 376.2L588.3 377.0L591.3 377.7L594.3 378.5L597.3 379.3L600.3 380.1L603.3 380.8L606.2 381.6L609.2 382.4L612.2 383.2L615.2 383.9L618.2 384.7L621.2 385.4L624.2 386.1L627.1 386.8L630.1 387.5L633.1 388.1L636.1 388.7L639.1 389.2L642.1 389.7L645.1 390.2L648.1 390.7L651.0 391.0L654.0 391.4L657.0 391.7L660.0 392.0L663.0 392.2L666.0 392.3L669.0 392.4L672.0 392.5L674.9 392.5L677.9 392.5L680.9 392.5L683.9 392.4L686.9 392.2L689.9 392.0L692.9 391.8L695.9 391.6L698.8 391.3L701.8 391.0L704.8 390.6L707.8 390.3L710.8 389.9L713.8 389.5L716.8 389.1L719.7 388.6L722.7 388.2L725.7 387.7L728.7 387.3L731.7 386.8L734.7 386.4L737.7 385.9L740.7 385.5L743.6 385.0L746.6 384.6L749.6 384.2L752.6 383.8L755.6 383.4L758.6 383.0L761.6 382.7L764.6 382.3L767.5 382.0L770.5 381.7L773.5 381.4L776.5 381.2L779.5 380.9L782.5 380.7L785.5 380.5L788.5 380.4L791.4 380.2L794.4 380.1L797.4 380.0L800.4 380.0" stroke="#f00" stroke-width="3.9"/>
<path class="c" d="M83.5 199.8C85.0 207.8 89.7 232.4 92.5 248.0C95.2 263.7 97.2 276.9 100.2 293.6C103.2 310.3 106.6 333.1 110.4 348.3C114.2 363.4 118.4 369.5 122.9 384.7C127.4 399.9 133.4 429.5 137.3 439.4C141.2 449.2 143.2 447.0 146.2 443.9C149.2 440.9 150.7 431.0 155.2 421.1C159.7 411.3 166.1 397.6 173.1 384.7C180.1 371.8 189.0 354.8 197.0 343.7C205.0 332.6 211.9 325.0 220.9 318.2C229.9 311.4 242.8 305.0 250.8 302.7C258.7 300.4 261.7 304.1 268.7 304.2C275.7 304.2 284.6 303.5 292.6 303.0C300.6 302.5 308.5 301.7 316.5 301.1C324.5 300.6 332.4 300.0 340.4 299.5C348.4 298.9 356.3 298.5 364.3 298.1C372.3 297.7 380.2 297.4 388.2 297.0C396.1 296.7 404.1 296.5 412.1 296.2C420.0 296.0 428.0 295.8 436.0 295.6C443.9 295.5 451.9 295.3 459.9 295.2C467.8 295.0 475.8 294.9 483.8 294.8C491.7 294.7 499.7 294.6 507.7 294.5C515.6 294.5 523.6 294.4 531.6 294.3C539.5 294.3 547.5 294.2 555.5 294.2C563.4 294.1 565.4 294.1 579.4 294.0C593.3 294.0 619.2 293.9 639.1 293.8C659.0 293.8 678.9 293.7 698.8 293.7C718.8 293.7 741.7 293.7 758.6 293.7C775.5 293.6 793.4 293.6 800.4 293.6" stroke="#000" stroke-width="3.9" stroke-dasharray="13.7 12.7" stroke-dashoffset="18"/>
<path class="c" d="M83.5 199.8L86.5 216.0L89.5 233.3L92.5 251.4L95.4 269.9L98.4 288.5L101.4 306.7L104.4 324.2L107.4 340.6L110.4 355.7L113.4 369.1L116.4 380.8L119.3 390.7L122.3 398.7L125.3 405.0L128.3 409.5L131.3 412.5L134.3 414.1L137.3 414.4L140.3 413.7L143.2 412.1L146.2 409.8L149.2 406.9L152.2 403.6L155.2 400.0L158.2 396.1L161.2 392.2L164.2 388.1L167.1 384.1L170.1 380.2L173.1 376.3L176.1 372.6L179.1 369.0L182.1 365.5L185.1 362.3L188.0 359.2L191.0 356.3L194.0 353.6L197.0 351.1L200.0 348.7L203.0 346.6L206.0 344.6L209.0 342.7L211.9 341.1L214.9 339.6L217.9 338.2L220.9 337.0L223.9 335.9L226.9 335.0L229.9 334.1L232.9 333.4L235.8 332.8L238.8 332.4L241.8 332.0L244.8 331.7L247.8 331.5L250.8 331.4L253.8 331.4L256.8 331.5L259.7 331.6L262.7 331.8L265.7 332.1L268.7 332.5L271.7 332.8L274.7 333.3L277.7 333.8L280.6 334.3L283.6 334.9L286.6 335.5L289.6 336.1L292.6 336.7L295.6 337.4L298.6 338.0L301.6 338.7L304.5 339.3L307.5 339.9L310.5 340.4L313.5 340.9L316.5 341.4L319.5 341.7L322.5 342.0L325.5 342.2L328.4 342.3L331.4 342.3L334.4 342.1L337.4 341.8L340.4 341.3L343.4 340.7L346.4 339.8L349.4 338.8L352.3 337.6L355.3 336.2L358.3 334.6L361.3 332.7L364.3 330.7L367.3 328.5L370.3 326.1L373.2 323.5L376.2 320.7L379.2 317.8L382.2 314.8L385.2 311.6L388.2 308.4L391.2 305.2L394.2 301.9L397.1 298.6L400.1 295.4L403.1 292.2L406.1 289.1L409.1 286.1L412.1 283.3L415.1 280.6L418.1 278.2L421.0 275.9L424.0 273.8L427.0 271.9L430.0 270.3L433.0 268.8L436.0 267.6L439.0 266.7L441.9 265.9L444.9 265.3L447.9 265.0L450.9 264.8L453.9 264.8L456.9 265.0L459.9 265.4L462.9 265.9L465.8 266.5L468.8 267.2L471.8 268.1L474.8 269.0L477.8 270.0L480.8 271.1L483.8 272.3L486.8 273.5L489.7 274.7L492.7 276.0L495.7 277.3L498.7 278.7L501.7 280.0L504.7 281.4L507.7 282.7L510.7 284.1L513.6 285.4L516.6 286.8L519.6 288.1L522.6 289.4L525.6 290.7L528.6 291.9L531.6 293.2L534.5 294.4L537.5 295.5L540.5 296.7L543.5 297.8L546.5 298.8L549.5 299.9L552.5 300.8L555.5 301.8L558.4 302.7L561.4 303.5L564.4 304.3L567.4 305.1L570.4 305.7L573.4 306.4L576.4 307.0L579.4 307.5L582.3 307.9L585.3 308.3L588.3 308.7L591.3 308.9L594.3 309.1L597.3 309.3L600.3 309.3L603.3 309.3L606.2 309.3L609.2 309.1L612.2 308.9L615.2 308.7L618.2 308.3L621.2 307.9L624.2 307.5L627.1 307.0L630.1 306.4L633.1 305.7L636.1 305.1L639.1 304.3L642.1 303.6L645.1 302.7L648.1 301.9L651.0 301.0L654.0 300.1L657.0 299.2L660.0 298.3L663.0 297.3L666.0 296.4L669.0 295.5L672.0 294.6L674.9 293.7L677.9 292.8L680.9 291.9L683.9 291.1L686.9 290.3L689.9 289.6L692.9 288.9L695.9 288.2L698.8 287.6L701.8 287.1L704.8 286.6L707.8 286.1L710.8 285.7L713.8 285.4L716.8 285.1L719.7 284.9L722.7 284.7L725.7 284.6L728.7 284.5L731.7 284.5L734.7 284.5L737.7 284.6L740.7 284.7L743.6 284.9L746.6 285.1L749.6 285.3L752.6 285.6L755.6 285.9L758.6 286.2L761.6 286.6L764.6 287.0L767.5 287.4L770.5 287.8L773.5 288.3L776.5 288.7L779.5 289.2L782.5 289.6L785.5 290.1L788.5 290.6L791.4 291.1L794.4 291.5L797.4 292.0L800.4 292.5" stroke="#f00" stroke-width="3.9" stroke-dasharray="13.7 12.7" stroke-dashoffset="6"/>
<path class="c" d="M382.2 292.5L501.7 293.2L800.4 293.6" stroke="#000" stroke-width="3.9"/>
<path class="c" d="M325.5 342.2L328.4 342.3L331.4 342.3L334.4 342.1L337.4 341.8L340.4 341.3L343.4 340.7L346.4 339.8L349.4 338.8L352.3 337.6L355.3 336.2L358.3 334.6L361.3 332.7L364.3 330.7L367.3 328.5L370.3 326.1L373.2 323.5L376.2 320.7L379.2 317.8L382.2 314.8L385.2 311.6L388.2 308.4L391.2 305.2L394.2 301.9L397.1 298.6L400.1 295.4L403.1 292.2L406.1 289.1L409.1 286.1L412.1 283.3L415.1 280.6L418.1 278.2L421.0 275.9L424.0 273.8L427.0 271.9L430.0 270.3L433.0 268.8L436.0 267.6L439.0 266.7L441.9 265.9L444.9 265.3L447.9 265.0L450.9 264.8L453.9 264.8L456.9 265.0L459.9 265.4L462.9 265.9L465.8 266.5L468.8 267.2L471.8 268.1L474.8 269.0L477.8 270.0L480.8 271.1L483.8 272.3L486.8 273.5L489.7 274.7L492.7 276.0L495.7 277.3L498.7 278.7L501.7 280.0L504.7 281.4L507.7 282.7L510.7 284.1L513.6 285.4L516.6 286.8L519.6 288.1L522.6 289.4L525.6 290.7L528.6 291.9L531.6 293.2L534.5 294.4L537.5 295.5L540.5 296.7L543.5 297.8L546.5 298.8L549.5 299.9L552.5 300.8L555.5 301.8L558.4 302.7L561.4 303.5L564.4 304.3L567.4 305.1L570.4 305.7L573.4 306.4L576.4 307.0L579.4 307.5L582.3 307.9L585.3 308.3L588.3 308.7L591.3 308.9L594.3 309.1L597.3 309.3L600.3 309.3L603.3 309.3L606.2 309.3L609.2 309.1L612.2 308.9L615.2 308.7L618.2 308.3L621.2 307.9L624.2 307.5L627.1 307.0L630.1 306.4L633.1 305.7L636.1 305.1L639.1 304.3L642.1 303.6L645.1 302.7L648.1 301.9L651.0 301.0L654.0 300.1L657.0 299.2L660.0 298.3L663.0 297.3L666.0 296.4L669.0 295.5L672.0 294.6L674.9 293.7L677.9 292.8L680.9 291.9L683.9 291.1L686.9 290.3L689.9 289.6L692.9 288.9L695.9 288.2L698.8 287.6L701.8 287.1L704.8 286.6L707.8 286.1L710.8 285.7L713.8 285.4L716.8 285.1L719.7 284.9L722.7 284.7L725.7 284.6L728.7 284.5L731.7 284.5L734.7 284.5L737.7 284.6L740.7 284.7L743.6 284.9L746.6 285.1L749.6 285.3L752.6 285.6L755.6 285.9L758.6 286.2L761.6 286.6L764.6 287.0L767.5 287.4L770.5 287.8L773.5 288.3L776.5 288.7L779.5 289.2L782.5 289.6L785.5 290.1L788.5 290.6L791.4 291.1L794.4 291.5L797.4 292.0L800.4 292.5" stroke="#f00" stroke-width="3.9" stroke-dasharray="13.7 12.7" stroke-dashoffset="3"/>
</g>
<text class="tk" transform="translate(82.8 610.5) scale(1 1.04)" text-anchor="middle">0</text>
<text class="tk" transform="translate(202.3 610.5) scale(1 1.04)" text-anchor="middle">2</text>
<text class="tk" transform="translate(321.8 610.5) scale(1 1.04)" text-anchor="middle">4</text>
<text class="tk" transform="translate(441.2 610.5) scale(1 1.04)" text-anchor="middle">6</text>
<text class="tk" transform="translate(560.7 610.5) scale(1 1.04)" text-anchor="middle">8</text>
<text class="tk" transform="translate(680.2 610.5) scale(1 1.04)" text-anchor="middle">10</text>
<text class="tk" transform="translate(799.7 610.5) scale(1 1.04)" text-anchor="middle">12</text>
<text class="tk" transform="translate(72.4 579.7) scale(1 1.04)" text-anchor="end">-3</text>
<text class="tk" transform="translate(72.4 488.6) scale(1 1.04)" text-anchor="end">-2</text>
<text class="tk" transform="translate(72.4 397.5) scale(1 1.04)" text-anchor="end">-1</text>
<text class="tk" transform="translate(72.4 306.4) scale(1 1.04)" text-anchor="end">0</text>
<text class="tk" transform="translate(72.4 215.3) scale(1 1.04)" text-anchor="end">1</text>
<text class="tk" transform="translate(72.4 124.2) scale(1 1.04)" text-anchor="end">2</text>
<text class="tk" transform="translate(72.4 33.1) scale(1 1.04)" text-anchor="end">3</text>
<text class="se" x="443.6" y="648" text-anchor="middle" font-size="36" letter-spacing="2.7">Time</text><g transform="translate(32.0 333.2) rotate(-90)"><text class="se" transform="translate(-0.5 0.0) scale(1.12 1)" font-size="39.0" font-style="italic">x</text><text class="se" x="18.7" y="5.8" font-size="24.6">1</text><text class="se" x="34.5" y="0" font-size="36">,</text><text class="se" transform="translate(42.2 0.0) scale(1.12 1)" font-size="39.0" font-style="italic">x</text><text class="se" x="63.7" y="5.8" font-size="24.6">2</text></g>
<rect x="417.3" y="26.8" width="344.4" height="199.9" fill="#fff" stroke="#262626" stroke-width="1.1"/><path d="M465.0 54.8 H514.4" stroke="#000" stroke-width="3.9" fill="none"/><text class="se" transform="translate(519.6 62.7) scale(1.10 1)" font-size="32.5" font-style="italic">x</text><text class="se" x="536.2" y="66.9" font-size="20.4">1</text><text class="se" x="549.6" y="62.7" font-size="30" letter-spacing="0.3">(closed-loop)</text><path d="M465.0 102.5 H514.4" stroke="#f00" stroke-width="3.9" fill="none"/><text class="se" transform="translate(519.6 110.4) scale(1.10 1)" font-size="32.5" font-style="italic">x</text><text class="se" x="536.2" y="114.6" font-size="20.4">1</text><text class="se" x="549.6" y="110.4" font-size="30" letter-spacing="0.66">(open-loop)</text><path d="M465.0 150.8 H514.4" stroke="#000" stroke-width="3.9" fill="none" stroke-dasharray="13.7 12.7"/><text class="se" transform="translate(519.6 158.7) scale(1.10 1)" font-size="32.5" font-style="italic">x</text><text class="se" x="537.2" y="162.9" font-size="20.4">2</text><text class="se" x="549.6" y="158.7" font-size="30" letter-spacing="0.3">(closed-loop)</text><path d="M465.0 198.9 H514.4" stroke="#f00" stroke-width="3.9" fill="none" stroke-dasharray="13.7 12.7"/><text class="se" transform="translate(519.6 206.8) scale(1.10 1)" font-size="32.5" font-style="italic">x</text><text class="se" x="537.2" y="211.0" font-size="20.4">2</text><text class="se" x="549.6" y="206.8" font-size="30" letter-spacing="0.66">(open-loop)</text>
</svg></body></html>
